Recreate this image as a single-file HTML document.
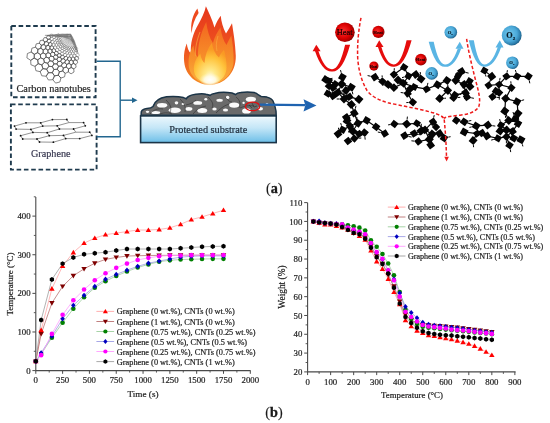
<!DOCTYPE html>
<html><head><meta charset="utf-8"><style>
html,body{margin:0;padding:0;background:#fff;}
svg{display:block;}
</style></head><body>
<svg width="550" height="423" viewBox="0 0 550 423">
<rect width="550" height="423" fill="#fff"/>
<defs>
<linearGradient id="subg" x1="0" y1="0" x2="0" y2="1">
 <stop offset="0" stop-color="#eef8fd"/><stop offset="0.45" stop-color="#c4e6f7"/><stop offset="1" stop-color="#6dbfe8"/>
</linearGradient>
<radialGradient id="redsph" cx="0.42" cy="0.45" r="0.6">
 <stop offset="0" stop-color="#f83030"/><stop offset="0.6" stop-color="#dc0000"/><stop offset="0.88" stop-color="#a80000"/><stop offset="1" stop-color="#720000"/>
</radialGradient>
<radialGradient id="bluesph" cx="0.4" cy="0.42" r="0.62">
 <stop offset="0" stop-color="#72c8ec"/><stop offset="0.6" stop-color="#4aa8d8"/><stop offset="0.88" stop-color="#2a7aa8"/><stop offset="1" stop-color="#1b5a80"/>
</radialGradient>
<linearGradient id="flo" x1="0" y1="0" x2="0" y2="1">
 <stop offset="0" stop-color="#e6361b"/><stop offset="0.55" stop-color="#ee5320"/><stop offset="1" stop-color="#f58a22"/>
</linearGradient>
<linearGradient id="flm" x1="0" y1="0" x2="0" y2="1">
 <stop offset="0" stop-color="#f3661f"/><stop offset="0.6" stop-color="#f7902a"/><stop offset="1" stop-color="#fbb040"/>
</linearGradient>
<radialGradient id="fly" cx="0.5" cy="0.85" r="0.7">
 <stop offset="0" stop-color="#fffbe6"/><stop offset="0.25" stop-color="#ffe98a"/><stop offset="0.7" stop-color="#ffc23a"/><stop offset="1" stop-color="#f99a24"/>
</radialGradient>
<radialGradient id="glow" cx="0.5" cy="0.6" r="0.5">
 <stop offset="0" stop-color="#ffffff"/><stop offset="0.5" stop-color="#fffbe8" stop-opacity="0.9"/><stop offset="1" stop-color="#fff3c0" stop-opacity="0"/>
</radialGradient>
</defs>
<rect x="11.3" y="26.0" width="84.3" height="71.3" fill="none" stroke="#1f3b4e" stroke-width="1.9" stroke-dasharray="4.6 2.7"/>
<rect x="10.9" y="104.4" width="85.7" height="65.2" fill="none" stroke="#1f3b4e" stroke-width="1.9" stroke-dasharray="4.6 2.7"/>
<path d="M96.5 61.3H120.2V136.7H96.8" fill="none" stroke="#22668f" stroke-width="1.4"/>
<path d="M120.2 100.2H133" fill="none" stroke="#22668f" stroke-width="1.4"/>
<path d="M137.5 100.2L132 97.4L132 103Z" fill="#22668f"/>
<path d="M74.7 46.1L75.6 46.3L76.2 45.5L75.8 44.6L75.0 44.6L74.4 45.2ZM73.1 46.5L74.0 46.8L74.7 46.1L74.4 45.2L73.6 45.0L72.9 45.6ZM71.4 46.6L72.3 47.0L73.1 46.5L72.9 45.6L72.1 45.2L71.4 45.7ZM69.7 46.4L70.5 47.0L71.4 46.6L71.4 45.7L70.7 45.2L69.9 45.5ZM68.1 46.0L68.8 46.7L69.7 46.4L69.9 45.5L69.2 44.9L68.4 45.2ZM66.6 45.4L67.1 46.2L68.1 46.0L68.4 45.2L67.9 44.5L67.0 44.6ZM65.2 44.5L65.6 45.4L66.6 45.4L67.0 44.6L66.6 43.8L65.7 43.7ZM63.9 43.4L64.2 44.3L65.2 44.5L65.7 43.7L65.4 42.9L64.6 42.7ZM62.9 42.1L63.0 43.1L63.9 43.4L64.6 42.7L64.4 41.9L63.6 41.6ZM62.0 40.7L62.0 41.7L62.9 42.1L63.6 41.6L63.6 40.7L62.8 40.3ZM61.4 39.1L61.2 40.1L62.0 40.7L62.8 40.3L62.9 39.4L62.3 38.9ZM61.0 37.5L60.7 38.4L61.4 39.1L62.3 38.9L62.5 38.0L61.9 37.4ZM60.9 35.8L60.5 36.7L61.0 37.5L61.9 37.4L62.3 36.6L61.8 35.9ZM61.1 34.2L60.5 35.0L60.9 35.8L61.8 35.9L62.3 35.1L62.0 34.3ZM73.6 45.0L74.4 45.2L75.0 44.6L74.7 43.8L73.9 43.7L73.4 44.2ZM72.1 45.2L72.9 45.6L73.6 45.0L73.4 44.2L72.7 44.0L72.1 44.4ZM70.7 45.2L71.4 45.7L72.1 45.2L72.1 44.4L71.4 44.1L70.8 44.4ZM69.2 44.9L69.9 45.5L70.7 45.2L70.8 44.4L70.2 43.9L69.4 44.2ZM67.9 44.5L68.4 45.2L69.2 44.9L69.4 44.2L68.9 43.6L68.2 43.7ZM66.6 43.8L67.0 44.6L67.9 44.5L68.2 43.7L67.8 43.1L67.0 43.1ZM65.4 42.9L65.7 43.7L66.6 43.8L67.0 43.1L66.7 42.5L65.9 42.3ZM64.4 41.9L64.6 42.7L65.4 42.9L65.9 42.3L65.7 41.6L65.0 41.4ZM63.6 40.7L63.6 41.6L64.4 41.9L65.0 41.4L64.9 40.6L64.3 40.3ZM62.9 39.4L62.8 40.3L63.6 40.7L64.3 40.3L64.3 39.6L63.7 39.1ZM62.5 38.0L62.3 38.9L62.9 39.4L63.7 39.1L63.8 38.4L63.3 37.8ZM62.3 36.6L61.9 37.4L62.5 38.0L63.3 37.8L63.5 37.1L63.1 36.5ZM62.3 35.1L61.8 35.9L62.3 36.6L63.1 36.5L63.5 35.9L63.1 35.2ZM62.6 33.7L62.0 34.3L62.3 35.1L63.1 35.2L63.6 34.6L63.3 33.9ZM73.9 43.7L74.7 43.8L75.1 43.2L74.8 42.6L74.1 42.5L73.7 43.0ZM72.7 44.0L73.4 44.2L73.9 43.7L73.7 43.0L73.1 42.8L72.6 43.3ZM71.4 44.1L72.1 44.4L72.7 44.0L72.6 43.3L72.0 43.0L71.4 43.3ZM70.2 43.9L70.8 44.4L71.4 44.1L71.4 43.3L70.9 43.0L70.3 43.2ZM68.9 43.6L69.4 44.2L70.2 43.9L70.3 43.2L69.8 42.8L69.2 43.0ZM67.8 43.1L68.2 43.7L68.9 43.6L69.2 43.0L68.7 42.5L68.1 42.5ZM66.7 42.5L67.0 43.1L67.8 43.1L68.1 42.5L67.8 41.9L67.1 41.9ZM65.7 41.6L65.9 42.3L66.7 42.5L67.1 41.9L66.9 41.3L66.2 41.1ZM64.9 40.6L65.0 41.4L65.7 41.6L66.2 41.1L66.1 40.5L65.5 40.2ZM64.3 39.6L64.3 40.3L64.9 40.6L65.5 40.2L65.5 39.6L64.9 39.2ZM63.8 38.4L63.7 39.1L64.3 39.6L64.9 39.2L65.0 38.6L64.5 38.2ZM63.5 37.1L63.3 37.8L63.8 38.4L64.5 38.2L64.6 37.5L64.2 37.0ZM63.5 35.9L63.1 36.5L63.5 37.1L64.2 37.0L64.5 36.4L64.2 35.9ZM63.6 34.6L63.1 35.2L63.5 35.9L64.2 35.9L64.5 35.3L64.3 34.7ZM74.1 42.5L74.8 42.6L75.1 42.0L74.8 41.5L74.2 41.5L73.9 41.9ZM73.1 42.8L73.7 43.0L74.1 42.5L73.9 41.9L73.3 41.8L72.9 42.2ZM72.0 43.0L72.6 43.3L73.1 42.8L72.9 42.2L72.4 42.1L71.9 42.4ZM70.9 43.0L71.4 43.3L72.0 43.0L71.9 42.4L71.4 42.1L70.9 42.4ZM69.8 42.8L70.3 43.2L70.9 43.0L70.9 42.4L70.5 42.0L69.9 42.2ZM68.7 42.5L69.2 43.0L69.8 42.8L69.9 42.2L69.5 41.8L69.0 41.9ZM67.8 41.9L68.1 42.5L68.7 42.5L69.0 41.9L68.7 41.4L68.1 41.4ZM66.9 41.3L67.1 41.9L67.8 41.9L68.1 41.4L67.8 40.9L67.3 40.8ZM66.1 40.5L66.2 41.1L66.9 41.3L67.3 40.8L67.1 40.3L66.6 40.1ZM65.5 39.6L65.5 40.2L66.1 40.5L66.6 40.1L66.5 39.5L66.0 39.3ZM65.0 38.6L64.9 39.2L65.5 39.6L66.0 39.3L66.0 38.7L65.5 38.4ZM64.6 37.5L64.5 38.2L65.0 38.6L65.5 38.4L65.6 37.8L65.2 37.4ZM64.5 36.4L64.2 37.0L64.6 37.5L65.2 37.4L65.4 36.9L65.1 36.4ZM64.5 35.3L64.2 35.9L64.5 36.4L65.1 36.4L65.4 35.9L65.1 35.4ZM64.7 34.2L64.3 34.7L64.5 35.3L65.1 35.4L65.5 34.9L65.3 34.4ZM73.3 41.8L73.9 41.9L74.2 41.5L74.0 41.0L73.5 41.0L73.2 41.3ZM72.4 42.1L72.9 42.2L73.3 41.8L73.2 41.3L72.7 41.2L72.3 41.5ZM71.4 42.1L71.9 42.4L72.4 42.1L72.3 41.5L71.9 41.3L71.4 41.6ZM70.5 42.0L70.9 42.4L71.4 42.1L71.4 41.6L71.0 41.3L70.6 41.5ZM69.5 41.8L69.9 42.2L70.5 42.0L70.6 41.5L70.2 41.2L69.7 41.3ZM68.7 41.4L69.0 41.9L69.5 41.8L69.7 41.3L69.4 40.9L68.9 41.0ZM67.8 40.9L68.1 41.4L68.7 41.4L68.9 41.0L68.7 40.5L68.2 40.5ZM67.1 40.3L67.3 40.8L67.8 40.9L68.2 40.5L68.0 40.0L67.5 39.9ZM66.5 39.5L66.6 40.1L67.1 40.3L67.5 39.9L67.4 39.4L66.9 39.2ZM66.0 38.7L66.0 39.3L66.5 39.5L66.9 39.2L66.9 38.7L66.5 38.5ZM65.6 37.8L65.5 38.4L66.0 38.7L66.5 38.5L66.5 38.0L66.2 37.7ZM65.4 36.9L65.2 37.4L65.6 37.8L66.2 37.7L66.3 37.2L66.0 36.8ZM65.4 35.9L65.1 36.4L65.4 36.9L66.0 36.8L66.2 36.3L65.9 35.9ZM65.5 34.9L65.1 35.4L65.4 35.9L65.9 35.9L66.2 35.5L66.0 35.0ZM65.7 34.0L65.3 34.4L65.5 34.9L66.0 35.0L66.3 34.7L66.2 34.2ZM73.5 41.0L74.0 41.0L74.3 40.6L74.0 40.2L73.6 40.2L73.3 40.5ZM72.7 41.2L73.2 41.3L73.5 41.0L73.3 40.5L72.9 40.4L72.6 40.8ZM71.9 41.3L72.3 41.5L72.7 41.2L72.6 40.8L72.2 40.6L71.8 40.9ZM71.0 41.3L71.4 41.6L71.9 41.3L71.8 40.9L71.5 40.7L71.1 40.9ZM70.2 41.2L70.6 41.5L71.0 41.3L71.1 40.9L70.7 40.6L70.3 40.7ZM69.4 40.9L69.7 41.3L70.2 41.2L70.3 40.7L70.0 40.4L69.6 40.5ZM68.7 40.5L68.9 41.0L69.4 40.9L69.6 40.5L69.3 40.1L68.9 40.1ZM68.0 40.0L68.2 40.5L68.7 40.5L68.9 40.1L68.7 39.7L68.3 39.7ZM67.4 39.4L67.5 39.9L68.0 40.0L68.3 39.7L68.2 39.3L67.7 39.1ZM66.9 38.7L66.9 39.2L67.4 39.4L67.7 39.1L67.7 38.7L67.3 38.5ZM66.5 38.0L66.5 38.5L66.9 38.7L67.3 38.5L67.3 38.1L67.0 37.8ZM66.3 37.2L66.2 37.7L66.5 38.0L67.0 37.8L67.0 37.4L66.7 37.1ZM66.2 36.3L66.0 36.8L66.3 37.2L66.7 37.1L66.9 36.7L66.6 36.3ZM66.2 35.5L65.9 35.9L66.2 36.3L66.6 36.3L66.8 35.9L66.6 35.5ZM66.3 34.7L66.0 35.0L66.2 35.5L66.6 35.5L66.9 35.2L66.8 34.8ZM66.6 33.9L66.2 34.2L66.3 34.7L66.8 34.8L67.1 34.5L67.0 34.1ZM72.9 40.4L73.3 40.5L73.6 40.2L73.4 39.8L73.0 39.8L72.8 40.1ZM72.2 40.6L72.6 40.8L72.9 40.4L72.8 40.1L72.4 40.0L72.1 40.2ZM71.5 40.7L71.8 40.9L72.2 40.6L72.1 40.2L71.8 40.1L71.5 40.3ZM70.7 40.6L71.1 40.9L71.5 40.7L71.5 40.3L71.1 40.1L70.8 40.2ZM70.0 40.4L70.3 40.7L70.7 40.6L70.8 40.2L70.5 39.9L70.1 40.0ZM69.3 40.1L69.6 40.5L70.0 40.4L70.1 40.0L69.9 39.7L69.5 39.8ZM68.7 39.7L68.9 40.1L69.3 40.1L69.5 39.8L69.3 39.4L69.0 39.4ZM68.2 39.3L68.3 39.7L68.7 39.7L69.0 39.4L68.8 39.1L68.5 39.0ZM67.7 38.7L67.7 39.1L68.2 39.3L68.5 39.0L68.4 38.6L68.0 38.5ZM67.3 38.1L67.3 38.5L67.7 38.7L68.0 38.5L68.0 38.1L67.7 37.9ZM67.0 37.4L67.0 37.8L67.3 38.1L67.7 37.9L67.7 37.5L67.4 37.3ZM66.9 36.7L66.7 37.1L67.0 37.4L67.4 37.3L67.5 36.9L67.3 36.6ZM66.8 35.9L66.6 36.3L66.9 36.7L67.3 36.6L67.4 36.3L67.2 35.9ZM66.9 35.2L66.6 35.5L66.8 35.9L67.2 35.9L67.4 35.6L67.3 35.3ZM67.1 34.5L66.8 34.8L66.9 35.2L67.3 35.3L67.6 35.0L67.5 34.6ZM67.4 33.8L67.0 34.1L67.1 34.5L67.5 34.6L67.8 34.4L67.7 34.0ZM73.0 39.8L73.4 39.8L73.6 39.5L73.4 39.2L73.1 39.2L72.9 39.4ZM72.4 40.0L72.8 40.1L73.0 39.8L72.9 39.4L72.6 39.4L72.3 39.6ZM71.8 40.1L72.1 40.2L72.4 40.0L72.3 39.6L72.0 39.5L71.8 39.7ZM71.1 40.1L71.5 40.3L71.8 40.1L71.8 39.7L71.5 39.5L71.2 39.7ZM70.5 39.9L70.8 40.2L71.1 40.1L71.2 39.7L70.9 39.5L70.6 39.6ZM69.9 39.7L70.1 40.0L70.5 39.9L70.6 39.6L70.4 39.4L70.0 39.4ZM69.3 39.4L69.5 39.8L69.9 39.7L70.0 39.4L69.9 39.1L69.5 39.1ZM68.8 39.1L69.0 39.4L69.3 39.4L69.5 39.1L69.4 38.8L69.1 38.8ZM68.4 38.6L68.5 39.0L68.8 39.1L69.1 38.8L69.0 38.5L68.6 38.4ZM68.0 38.1L68.0 38.5L68.4 38.6L68.6 38.4L68.6 38.0L68.3 37.9ZM67.7 37.5L67.7 37.9L68.0 38.1L68.3 37.9L68.3 37.6L68.0 37.4ZM67.5 36.9L67.4 37.3L67.7 37.5L68.0 37.4L68.1 37.0L67.9 36.8ZM67.4 36.3L67.3 36.6L67.5 36.9L67.9 36.8L68.0 36.5L67.8 36.2ZM67.4 35.6L67.2 35.9L67.4 36.3L67.8 36.2L68.0 35.9L67.8 35.7ZM67.6 35.0L67.3 35.3L67.4 35.6L67.8 35.7L68.0 35.4L67.9 35.1ZM67.8 34.4L67.5 34.6L67.6 35.0L67.9 35.1L68.1 34.8L68.1 34.5ZM68.1 33.8L67.7 34.0L67.8 34.4L68.1 34.5L68.4 34.3L68.4 34.0Z" fill="none" stroke="#a8a8a8" stroke-width="0.3"/>
<path d="M76.2 56.4L78.1 56.9L79.3 55.4L78.7 53.7L77.0 53.4L75.8 54.6ZM72.9 56.9L74.7 57.7L76.2 56.4L75.8 54.6L74.2 54.1L72.8 55.1ZM69.6 56.8L71.3 57.9L72.9 56.9L72.8 55.1L71.3 54.3L69.8 55.0ZM66.4 56.3L67.8 57.6L69.6 56.8L69.8 55.0L68.5 54.0L66.8 54.5ZM63.3 55.2L64.5 56.8L66.4 56.3L66.8 54.5L65.7 53.3L64.0 53.6ZM60.4 53.7L61.3 55.4L63.3 55.2L64.0 53.6L63.0 52.2L61.3 52.2ZM57.7 51.7L58.4 53.6L60.4 53.7L61.3 52.2L60.6 50.6L58.9 50.4ZM55.4 49.4L55.8 51.3L57.7 51.7L58.9 50.4L58.4 48.7L56.8 48.2ZM53.5 46.7L53.6 48.6L55.4 49.4L56.8 48.2L56.6 46.5L55.1 45.8ZM52.1 43.7L51.8 45.7L53.5 46.7L55.1 45.8L55.1 44.1L53.7 43.1ZM51.1 40.6L50.6 42.5L52.1 43.7L53.7 43.1L54.1 41.4L52.9 40.2ZM50.6 37.3L49.8 39.1L51.1 40.6L52.9 40.2L53.4 38.6L52.4 37.2ZM50.7 34.0L49.6 35.7L50.6 37.3L52.4 37.2L53.2 35.7L52.5 34.2ZM74.2 54.1L75.8 54.6L77.0 53.4L76.5 51.9L75.1 51.5L74.0 52.5ZM71.3 54.3L72.8 55.1L74.2 54.1L74.0 52.5L72.6 51.9L71.3 52.7ZM68.5 54.0L69.8 55.0L71.3 54.3L71.3 52.7L70.1 51.9L68.7 52.4ZM65.7 53.3L66.8 54.5L68.5 54.0L68.7 52.4L67.6 51.4L66.2 51.8ZM63.0 52.2L64.0 53.6L65.7 53.3L66.2 51.8L65.2 50.6L63.8 50.8ZM60.6 50.6L61.3 52.2L63.0 52.2L63.8 50.8L63.0 49.5L61.5 49.4ZM58.4 48.7L58.9 50.4L60.6 50.6L61.5 49.4L61.0 48.0L59.6 47.6ZM56.6 46.5L56.8 48.2L58.4 48.7L59.6 47.6L59.3 46.2L57.9 45.6ZM55.1 44.1L55.1 45.8L56.6 46.5L57.9 45.6L57.8 44.1L56.5 43.4ZM54.1 41.4L53.7 43.1L55.1 44.1L56.5 43.4L56.7 41.9L55.6 40.9ZM53.4 38.6L52.9 40.2L54.1 41.4L55.6 40.9L56.0 39.5L55.0 38.4ZM53.2 35.7L52.4 37.2L53.4 38.6L55.0 38.4L55.6 37.0L54.8 35.7ZM75.1 51.5L76.5 51.9L77.5 50.8L76.9 49.5L75.7 49.3L74.8 50.2ZM72.6 51.9L74.0 52.5L75.1 51.5L74.8 50.2L73.5 49.7L72.5 50.5ZM70.1 51.9L71.3 52.7L72.6 51.9L72.5 50.5L71.4 49.9L70.2 50.5ZM67.6 51.4L68.7 52.4L70.1 51.9L70.2 50.5L69.2 49.7L68.0 50.1ZM65.2 50.6L66.2 51.8L67.6 51.4L68.0 50.1L67.1 49.2L65.8 49.4ZM63.0 49.5L63.8 50.8L65.2 50.6L65.8 49.4L65.0 48.3L63.8 48.3ZM61.0 48.0L61.5 49.4L63.0 49.5L63.8 48.3L63.2 47.1L61.9 46.9ZM59.3 46.2L59.6 47.6L61.0 48.0L61.9 46.9L61.5 45.7L60.3 45.3ZM57.8 44.1L57.9 45.6L59.3 46.2L60.3 45.3L60.1 44.0L59.0 43.4ZM56.7 41.9L56.5 43.4L57.8 44.1L59.0 43.4L59.0 42.1L58.0 41.4ZM56.0 39.5L55.6 40.9L56.7 41.9L58.0 41.4L58.2 40.1L57.3 39.2ZM55.6 37.0L55.0 38.4L56.0 39.5L57.3 39.2L57.7 38.0L57.0 36.9ZM55.6 34.5L54.8 35.7L55.6 37.0L57.0 36.9L57.6 35.8L57.0 34.6ZM75.7 49.3L76.9 49.5L77.7 48.4L77.2 47.4L76.0 47.2L75.3 48.1ZM73.5 49.7L74.8 50.2L75.7 49.3L75.3 48.1L74.2 47.8L73.4 48.6ZM71.4 49.9L72.5 50.5L73.5 49.7L73.4 48.6L72.3 48.1L71.4 48.7ZM69.2 49.7L70.2 50.5L71.4 49.9L71.4 48.7L70.4 48.1L69.4 48.5ZM67.1 49.2L68.0 50.1L69.2 49.7L69.4 48.5L68.5 47.8L67.4 48.0ZM65.0 48.3L65.8 49.4L67.1 49.2L67.4 48.0L66.7 47.1L65.6 47.2ZM63.2 47.1L63.8 48.3L65.0 48.3L65.6 47.2L65.0 46.3L63.9 46.2ZM61.5 45.7L61.9 46.9L63.2 47.1L63.9 46.2L63.5 45.1L62.4 44.9ZM60.1 44.0L60.3 45.3L61.5 45.7L62.4 44.9L62.2 43.8L61.1 43.3ZM59.0 42.1L59.0 43.4L60.1 44.0L61.1 43.3L61.1 42.2L60.1 41.6ZM58.2 40.1L58.0 41.4L59.0 42.1L60.1 41.6L60.2 40.5L59.4 39.7ZM57.7 38.0L57.3 39.2L58.2 40.1L59.4 39.7L59.7 38.7L58.9 37.8ZM57.6 35.8L57.0 36.9L57.7 38.0L58.9 37.8L59.4 36.8L58.8 35.8ZM57.8 33.6L57.0 34.6L57.6 35.8L58.8 35.8L59.4 34.9L59.0 33.8ZM74.2 47.8L75.3 48.1L76.0 47.2L75.6 46.3L74.7 46.1L74.0 46.8ZM72.3 48.1L73.4 48.6L74.2 47.8L74.0 46.8L73.1 46.5L72.3 47.0ZM70.4 48.1L71.4 48.7L72.3 48.1L72.3 47.0L71.4 46.6L70.5 47.0ZM68.5 47.8L69.4 48.5L70.4 48.1L70.5 47.0L69.7 46.4L68.8 46.7ZM66.7 47.1L67.4 48.0L68.5 47.8L68.8 46.7L68.1 46.0L67.1 46.2ZM65.0 46.3L65.6 47.2L66.7 47.1L67.1 46.2L66.6 45.4L65.6 45.4ZM63.5 45.1L63.9 46.2L65.0 46.3L65.6 45.4L65.2 44.5L64.2 44.3ZM62.2 43.8L62.4 44.9L63.5 45.1L64.2 44.3L63.9 43.4L63.0 43.1ZM61.1 42.2L61.1 43.3L62.2 43.8L63.0 43.1L62.9 42.1L62.0 41.7ZM60.2 40.5L60.1 41.6L61.1 42.2L62.0 41.7L62.0 40.7L61.2 40.1ZM59.7 38.7L59.4 39.7L60.2 40.5L61.2 40.1L61.4 39.1L60.7 38.4ZM59.4 36.8L58.9 37.8L59.7 38.7L60.7 38.4L61.0 37.5L60.5 36.7ZM59.4 34.9L58.8 35.8L59.4 36.8L60.5 36.7L60.9 35.8L60.5 35.0Z" fill="none" stroke="#777" stroke-width="0.45"/>
<path d="M52.8 79.7L55.6 83.1L59.9 82.0L60.9 78.0L58.3 75.2L54.5 75.9ZM46.2 76.2L48.4 80.0L52.8 79.7L54.5 75.9L52.3 72.7L48.4 72.7ZM40.2 71.7L41.8 75.8L46.2 76.2L48.4 72.7L46.7 69.2L42.9 68.6ZM35.0 66.4L35.9 70.7L40.2 71.7L42.9 68.6L41.8 64.9L38.2 63.7ZM30.7 60.3L30.9 64.7L35.0 66.4L38.2 63.7L37.7 59.9L34.2 58.1ZM27.4 53.5L26.9 57.9L30.7 60.3L34.2 58.1L34.3 54.3L31.2 52.0ZM58.3 75.2L60.9 78.0L64.6 76.8L65.2 73.3L62.7 71.0L59.4 71.8ZM52.3 72.7L54.5 75.9L58.3 75.2L59.4 71.8L57.3 69.2L53.9 69.5ZM46.7 69.2L48.4 72.7L52.3 72.7L53.9 69.5L52.3 66.6L48.9 66.3ZM41.8 64.9L42.9 68.6L46.7 69.2L48.9 66.3L47.7 63.2L44.4 62.4ZM37.7 59.9L38.2 63.7L41.8 64.9L44.4 62.4L43.7 59.1L40.6 57.8ZM34.3 54.3L34.2 58.1L37.7 59.9L40.6 57.8L40.4 54.5L37.6 52.7ZM31.9 48.2L31.2 52.0L34.3 54.3L37.6 52.7L37.9 49.4L35.4 47.2ZM68.3 72.0L71.1 73.8L74.0 72.0L73.8 68.9L71.2 67.5L68.6 68.9ZM62.7 71.0L65.2 73.3L68.3 72.0L68.6 68.9L66.2 67.1L63.4 68.0ZM57.3 69.2L59.4 71.8L62.7 71.0L63.4 68.0L61.4 65.9L58.5 66.3ZM52.3 66.6L53.9 69.5L57.3 69.2L58.5 66.3L56.9 63.9L53.9 63.9ZM47.7 63.2L48.9 66.3L52.3 66.6L53.9 63.9L52.7 61.3L49.8 60.8ZM43.7 59.1L44.4 62.4L47.7 63.2L49.8 60.8L48.9 58.0L46.1 57.1ZM40.4 54.5L40.6 57.8L43.7 59.1L46.1 57.1L45.8 54.2L43.1 52.9ZM37.9 49.4L37.6 52.7L40.4 54.5L43.1 52.9L43.2 49.9L40.8 48.2ZM36.2 43.9L35.4 47.2L37.9 49.4L40.8 48.2L41.4 45.3L39.3 43.2ZM71.2 67.5L73.8 68.9L76.1 67.2L75.7 64.5L73.4 63.4L71.2 64.8ZM66.2 67.1L68.6 68.9L71.2 67.5L71.2 64.8L69.1 63.4L66.7 64.4ZM61.4 65.9L63.4 68.0L66.2 67.1L66.7 64.4L64.8 62.7L62.3 63.3ZM56.9 63.9L58.5 66.3L61.4 65.9L62.3 63.3L60.7 61.3L58.1 61.5ZM52.7 61.3L53.9 63.9L56.9 63.9L58.1 61.5L56.9 59.3L54.3 59.1ZM48.9 58.0L49.8 60.8L52.7 61.3L54.3 59.1L53.4 56.7L50.9 56.1ZM45.8 54.2L46.1 57.1L48.9 58.0L50.9 56.1L50.4 53.6L48.0 52.6ZM43.2 49.9L43.1 52.9L45.8 54.2L48.0 52.6L47.9 50.1L45.7 48.7ZM41.4 45.3L40.8 48.2L43.2 49.9L45.7 48.7L45.9 46.2L44.0 44.5ZM40.3 40.5L39.3 43.2L41.4 45.3L44.0 44.5L44.7 42.0L43.0 40.1ZM73.4 63.4L75.7 64.5L77.7 62.8L77.1 60.5L75.0 59.7L73.2 61.1ZM69.1 63.4L71.2 64.8L73.4 63.4L73.2 61.1L71.3 60.0L69.3 61.0ZM64.8 62.7L66.7 64.4L69.1 63.4L69.3 61.0L67.5 59.7L65.4 60.4ZM60.7 61.3L62.3 63.3L64.8 62.7L65.4 60.4L63.8 58.7L61.6 59.1ZM56.9 59.3L58.1 61.5L60.7 61.3L61.6 59.1L60.4 57.2L58.1 57.3ZM53.4 56.7L54.3 59.1L56.9 59.3L58.1 57.3L57.2 55.2L55.0 54.9ZM50.4 53.6L50.9 56.1L53.4 56.7L55.0 54.9L54.3 52.7L52.2 52.1ZM47.9 50.1L48.0 52.6L50.4 53.6L52.2 52.1L51.9 49.8L49.9 48.8ZM45.9 46.2L45.7 48.7L47.9 50.1L49.9 48.8L50.0 46.6L48.2 45.3ZM44.7 42.0L44.0 44.5L45.9 46.2L48.2 45.3L48.6 43.1L47.0 41.5ZM44.1 37.7L43.0 40.1L44.7 42.0L47.0 41.5L47.7 39.4L46.4 37.6ZM75.0 59.7L77.1 60.5L78.7 58.9L78.1 56.9L76.2 56.4L74.7 57.7ZM71.3 60.0L73.2 61.1L75.0 59.7L74.7 57.7L72.9 56.9L71.3 57.9ZM67.5 59.7L69.3 61.0L71.3 60.0L71.3 57.9L69.6 56.8L67.8 57.6ZM63.8 58.7L65.4 60.4L67.5 59.7L67.8 57.6L66.4 56.3L64.5 56.8ZM60.4 57.2L61.6 59.1L63.8 58.7L64.5 56.8L63.3 55.2L61.3 55.4ZM57.2 55.2L58.1 57.3L60.4 57.2L61.3 55.4L60.4 53.7L58.4 53.6ZM54.3 52.7L55.0 54.9L57.2 55.2L58.4 53.6L57.7 51.7L55.8 51.3ZM51.9 49.8L52.2 52.1L54.3 52.7L55.8 51.3L55.4 49.4L53.6 48.6ZM50.0 46.6L49.9 48.8L51.9 49.8L53.6 48.6L53.5 46.7L51.8 45.7ZM48.6 43.1L48.2 45.3L50.0 46.6L51.8 45.7L52.1 43.7L50.6 42.5ZM47.7 39.4L47.0 41.5L48.6 43.1L50.6 42.5L51.1 40.6L49.8 39.1ZM47.5 35.6L46.4 37.6L47.7 39.4L49.8 39.1L50.6 37.3L49.6 35.7Z" fill="none" stroke="#4e4e4e" stroke-width="0.7"/>
<path d="M44 35.4 C52 34.2 62 33.6 70.6 33.8 C73.5 37 76.5 44 78.4 54 C76 47.5 73.5 42.5 69.5 39.2 C63 36.6 54 36 44 35.4Z" fill="#7c7c7c" opacity="0.75"/>
<path d="M45 35.3 C55 35 64 35.5 70.5 34.2 M47 35.8 C57 36.2 65 37 71 36.5 M70.6 34 C73 40 75.5 46 78 53 M70.5 35 C72 41 74 47 77 52" fill="none" stroke="#555" stroke-width="0.45"/>
<text x="53.7" y="92.4" font-family="Liberation Serif, serif" font-size="10.25" text-anchor="middle" fill="#2a2a2a" stroke="#2a2a2a" stroke-width="0.2">Carbon nanotubes</text>
<path d="M14.5 126.1L26.0 122.8M14.5 126.1L16.1 129.1M26.0 122.8L40.7 122.8M40.7 122.8L52.4 119.6M40.7 122.8L42.7 126.1M52.4 119.6L66.8 119.5M16.1 129.1L30.9 129.4M30.9 129.4L42.7 126.1M30.9 129.4L32.9 132.4M42.7 126.1L57.2 125.8M32.9 132.4L47.2 132.7M47.2 132.7L49.3 135.7M47.2 132.7L59.4 129.0M20.6 135.7L32.9 132.4M20.6 135.7L22.7 139.0M49.3 135.7L63.5 135.4M22.7 139.0L37.0 139.0M37.0 139.0L49.3 135.7M37.0 139.0L39.5 142.0M39.5 142.0L53.4 142.2M53.4 142.2L65.7 138.6M66.8 119.5L68.9 122.6M83.6 122.6L85.3 125.8M57.2 125.8L59.4 129.0M57.2 125.8L68.9 122.6M59.4 129.0L73.6 129.0M73.6 129.0L85.3 125.8M73.6 129.0L75.8 132.2M89.7 132.2L91.9 135.4M63.5 135.4L65.7 138.6M63.5 135.4L75.8 132.2M65.7 138.6L79.7 138.6M79.7 138.6L91.9 135.4M68.9 122.6L83.6 122.6M75.8 132.2L89.7 132.2" stroke="#707070" stroke-width="0.75" fill="none"/>
<circle cx="14.5" cy="126.1" r="0.9" fill="#111"/>
<circle cx="26.0" cy="122.8" r="0.9" fill="#111"/>
<circle cx="40.7" cy="122.8" r="0.9" fill="#111"/>
<circle cx="52.4" cy="119.6" r="0.9" fill="#111"/>
<circle cx="16.1" cy="129.1" r="0.9" fill="#111"/>
<circle cx="30.9" cy="129.4" r="0.9" fill="#111"/>
<circle cx="42.7" cy="126.1" r="0.9" fill="#111"/>
<circle cx="32.9" cy="132.4" r="0.9" fill="#111"/>
<circle cx="47.2" cy="132.7" r="0.9" fill="#111"/>
<circle cx="20.6" cy="135.7" r="0.9" fill="#111"/>
<circle cx="49.3" cy="135.7" r="0.9" fill="#111"/>
<circle cx="22.7" cy="139.0" r="0.9" fill="#111"/>
<circle cx="37.0" cy="139.0" r="0.9" fill="#111"/>
<circle cx="39.5" cy="142.0" r="0.9" fill="#111"/>
<circle cx="53.4" cy="142.2" r="0.9" fill="#111"/>
<circle cx="66.8" cy="119.5" r="0.9" fill="#111"/>
<circle cx="83.6" cy="122.6" r="0.9" fill="#111"/>
<circle cx="85.3" cy="125.8" r="0.9" fill="#111"/>
<circle cx="57.2" cy="125.8" r="0.9" fill="#111"/>
<circle cx="59.4" cy="129.0" r="0.9" fill="#111"/>
<circle cx="73.6" cy="129.0" r="0.9" fill="#111"/>
<circle cx="89.7" cy="132.2" r="0.9" fill="#111"/>
<circle cx="91.9" cy="135.4" r="0.9" fill="#111"/>
<circle cx="63.5" cy="135.4" r="0.9" fill="#111"/>
<circle cx="65.7" cy="138.6" r="0.9" fill="#111"/>
<circle cx="79.7" cy="138.6" r="0.9" fill="#111"/>
<text x="50.8" y="157.4" font-family="Liberation Serif, serif" font-size="10.2" text-anchor="middle" fill="#3a3a52" stroke="#3a3a52" stroke-width="0.2">Graphene</text><path d="M210 84.8 C197 84.8 185.5 76 184.2 62 C183.4 54 185 48 186.8 43.6 C187.2 48 188.6 51.5 191 53.5 C190 44 193 33 198.5 24 C201.5 18.5 204.8 12 205.9 6.3 C208.5 12 212 19 214.5 27.5 C216 23 218.5 19 220.7 15.8 C221.3 22 223 28 226 33.5 C228.3 30 230.3 26.5 232 23.2 C233 30 235.4 43 235.8 56 C236.2 73 224 84.8 210 84.8Z" fill="url(#flo)"/>
<path d="M197.4 8.6 C192.5 15 190.2 24 191.6 33.3 C192.3 26 194.5 18.5 198.6 13 C198.2 11.5 197.8 10 197.4 8.6Z" fill="#ee4a1e"/>
<path d="M210 83.8 C199 83.8 188.8 76 188.6 64 C188.4 56 190.5 50 193.5 45.5 C194 51 195.5 55 198 57.5 C197.5 46 200.5 33 206.2 22 C207.5 31 209.5 38 213 43 C214.5 37 217.5 31.5 220.5 27.5 C221.5 35 223.5 41 226.5 45 C228 41.5 229.8 38.5 231.3 35.5 C232.6 43 233.8 52 233.6 61 C233.2 74 223 83.8 210 83.8Z" fill="url(#flm)"/>
<path d="M210 83.2 C200.5 83.2 193.5 77 193.8 68.5 C194 62 197 57 200.3 53.5 C201 58.5 202.5 61.5 204.5 63 C205 55.5 207.5 48.5 211.8 43 C213 49.5 215.5 54.5 219 57.5 C220 54.5 222 51.5 224 50 C225.3 55 226.8 61 226.6 67.5 C226.3 77 219.5 83.2 210 83.2Z" fill="url(#fly)"/>
<path d="M200 32 C197 40 195 48 195.5 56" stroke="#f9a23a" stroke-width="0.9" fill="none" opacity="0.8"/>
<path d="M218 36 C216 42 216 47 217 51" stroke="#fbb040" stroke-width="0.8" fill="none" opacity="0.7"/>
<ellipse cx="210" cy="78.5" rx="11" ry="7" fill="url(#glow)"/>
<path d="M141.1 115.3 L141.3 111.8 C142 109.8 144 108.8 147 108.5 C149.5 108.3 151.5 108 153 106.5 C154.5 101.5 159 98 166.5 96.8 C172 96.2 179 96.5 183.5 97.6 L186.3 98.7 C187.5 96.5 191 94.8 195.8 94.2 C200 93.6 204 93.6 206 94.2 L210.2 95.3 C211.5 94 213 93.6 214.5 93.4 C218 92.5 227 92.2 232 93 L235.6 94.5 C237 93.2 239 92.8 240.7 92.6 C244 92 250 91.8 254 92.6 C256 93 257.5 94 258.5 95 L261.1 96.4 C263 96.5 265 96.6 266.9 97.1 C270 98 272 99 273 101 C274.5 104 275.5 108 276 111 L276.2 115.3 Z" fill="#6a6a6a" stroke="#1b3447" stroke-width="1.5"/>
<ellipse cx="162.1" cy="105.3" rx="5.1" ry="2.3" fill="#fafafa"/>
<ellipse cx="174.8" cy="110.2" rx="6.1" ry="2.8" fill="#fafafa"/>
<ellipse cx="155.7" cy="112.5" rx="4.5" ry="1.5" fill="#fafafa"/>
<ellipse cx="176.5" cy="102.8" rx="1.8" ry="1.6" fill="#fafafa"/>
<ellipse cx="188.8" cy="108.9" rx="3.6" ry="1.8" fill="#fafafa"/>
<ellipse cx="197.7" cy="102.9" rx="4.5" ry="1.9" fill="#fafafa"/>
<ellipse cx="202.2" cy="110.6" rx="5" ry="2.5" fill="#fafafa"/>
<ellipse cx="205.8" cy="99.3" rx="1.5" ry="1.2" fill="#fafafa"/>
<ellipse cx="214.5" cy="109" rx="2.2" ry="1.5" fill="#fafafa"/>
<ellipse cx="219.6" cy="100.3" rx="3.2" ry="1.5" fill="#fafafa"/>
<ellipse cx="227.6" cy="97.4" rx="1.8" ry="1.6" fill="#fafafa"/>
<ellipse cx="234.2" cy="105.1" rx="5.1" ry="2.6" fill="#fafafa"/>
<ellipse cx="225.5" cy="109.9" rx="2.6" ry="1.5" fill="#fafafa"/>
<ellipse cx="250.9" cy="99.3" rx="5.1" ry="2.6" fill="#fafafa"/>
<ellipse cx="246.5" cy="110.9" rx="4.4" ry="2.6" fill="#fafafa"/>
<ellipse cx="260.4" cy="108.7" rx="2.6" ry="1.7" fill="#fafafa"/>
<ellipse cx="243.6" cy="102.9" rx="1.2" ry="1.1" fill="#fafafa"/>
<ellipse cx="147.5" cy="111.8" rx="1.8" ry="1.1" fill="#fafafa"/>
<ellipse cx="183" cy="104" rx="1.4" ry="1.1" fill="#fafafa"/>
<ellipse cx="267" cy="104" rx="1.3" ry="1.1" fill="#fafafa"/>
<path d="M150 114 C153 110 158 108 163 109" stroke="#262626" stroke-width="0.5" fill="none"/>
<path d="M166 100 C170 104 172 107 170 113" stroke="#262626" stroke-width="0.5" fill="none"/>
<path d="M180 99 C184 103 186 106 185 112" stroke="#262626" stroke-width="0.5" fill="none"/>
<path d="M193 114 C196 110 200 107 206 106" stroke="#262626" stroke-width="0.5" fill="none"/>
<path d="M208 97 C212 101 214 104 212 108" stroke="#262626" stroke-width="0.5" fill="none"/>
<path d="M216 113 C220 109 223 106 229 104" stroke="#262626" stroke-width="0.5" fill="none"/>
<path d="M236 97 C240 100 241 104 239 108" stroke="#262626" stroke-width="0.5" fill="none"/>
<path d="M186 105 C190 104 193 103 196 100" stroke="#262626" stroke-width="0.5" fill="none"/>
<path d="M240 108 C244 106 249 105 254 106" stroke="#262626" stroke-width="0.5" fill="none"/>
<path d="M225 97 C228 100 229 102 232 102" stroke="#262626" stroke-width="0.5" fill="none"/>
<path d="M160 114 C165 112 170 113 172 114" stroke="#262626" stroke-width="0.5" fill="none"/>
<rect x="140.6" y="115.9" width="135.6" height="26.7" fill="url(#subg)" stroke="#1b3447" stroke-width="1.6"/>
<path d="M141.6 117.6H275.2" stroke="#f4fbff" stroke-width="0.8"/>
<text x="208.2" y="132.8" font-family="Liberation Serif, serif" font-size="10.3" text-anchor="middle" fill="#1e2b3a" stroke="#1e2b3a" stroke-width="0.2">Protected substrate</text>
<ellipse cx="252.6" cy="106.4" rx="7.2" ry="4.3" fill="none" stroke="#e01010" stroke-width="1.3"/>
<path d="M249 105 L252 108 M252 103 L254 107 L257 106" stroke="#222" stroke-width="0.5" fill="none"/>
<path d="M259.5 104.6 L305 105.2" stroke="#1f63b0" stroke-width="2.2" fill="none"/>
<path d="M316.5 105.4 L303.5 99.3 L305.3 105.3 L303.5 111.4 Z" fill="#1f63b0"/><path d="M325.6 79.5L329.0 80.9L335.4 84.1L341.7 84.1L351.3 87.3M342.4 77.1L341.7 84.1L337.9 92.4L349.4 96.8L358.9 99.4M327.7 93.6L333.0 96.0M337.9 92.4L344.0 99.0L351.3 104.5L354.3 113.1L346.3 117.5M354.3 113.1L357.9 123.3L352.8 131.3L354.3 138.5M342.6 129.8L349.9 126.2L357.9 123.3L366.6 120.4L376.1 126.9L384.8 133.5M352.8 131.3L364.5 132.7M374.8 77.1L382.5 81.5L393.9 87.6L403.4 83.3L414.3 86.9L426.6 89.1L437.5 84.7L447.0 80.4M393.9 74.5L404.1 67.3L408.5 76.0L403.4 83.3L407.7 93.5L412.8 102.2M408.5 76.0L415.7 74.5L421.0 79.0M447.7 90.5L439.7 98.5M447.7 90.5L453.5 97.8M437.5 84.7L447.7 90.5M461.5 71.5L455.7 80.5L463.9 84.5L469.6 81.3M463.9 84.5L465.5 92.7L454.9 95.2M465.5 92.7L467.0 97.0M484.4 70.6L491.7 76.4L488.5 85.4L499.1 84.5L499.1 92.7L492.5 96.8M499.1 84.5L506.5 76.4L517.1 76.4L528.5 76.4M499.1 84.5L511.4 87.8L505.6 98.5L517.1 101.7M505.6 98.5L504.8 111.2L508.7 120.5L501.0 125.1L506.5 130.0L512.5 131.3L506.4 136.7L509.5 145.2M517.1 101.7L518.0 113.5L518.0 123.6L512.5 131.3M394.3 124.0L406.7 124.0L416.9 123.3L424.9 129.8L432.9 121.8M404.5 135.6L414.0 133.5L424.9 129.8L432.2 134.2L439.5 133.5M418.4 141.5L429.3 139.3L430.7 145.1M424.9 129.8L429.3 139.3M456.2 120.4L464.2 121.8L476.2 125.9L487.8 125.1M464.2 132.0L477.0 133.6L487.0 136.0L497.9 138.3L506.4 136.7L521.0 139.8M473.1 140.6L477.0 133.6M333.0 88.0M346.0 90.5M338.0 134.0M347.0 121.0M359.0 134.0M348.0 141.0M421.0 131.0M436.0 127.0M500.0 131.0M470.0 86.5M410.0 89.0M458.0 76.0M398.0 80.0M329.0 86.0M444.0 138.0M496.0 91.0M515.0 119.0M482.0 133.0" stroke="#050505" stroke-width="1.2" fill="none" stroke-linejoin="round"/>
<path d="M326.4 83.9L321.2 80.3L324.8 75.1L330.0 78.7ZM330.1 84.9L325.0 82.0L327.9 76.9L333.0 79.8ZM336.1 88.3L331.2 84.8L334.7 79.9L339.6 83.4ZM341.9 88.7L337.1 84.3L341.5 79.5L346.3 83.9ZM352.3 91.8L346.8 88.3L350.3 82.8L355.8 86.3ZM343.6 81.5L338.0 78.3L341.2 72.7L346.8 75.9ZM337.3 96.7L333.6 91.8L338.5 88.1L342.2 93.0ZM348.6 101.1L345.1 96.0L350.2 92.5L353.7 97.6ZM359.2 104.0L354.3 99.7L358.6 94.8L363.5 99.1ZM328.7 97.7L323.6 94.6L326.7 89.5L331.8 92.6ZM332.3 100.3L328.7 95.3L333.7 91.7L337.3 96.7ZM344.0 103.4L339.6 99.0L344.0 94.6L348.4 99.0ZM351.0 109.1L346.7 104.2L351.6 99.9L355.9 104.8ZM353.3 117.5L349.9 112.1L355.3 108.7L358.7 114.1ZM345.5 121.9L341.9 116.7L347.1 113.1L350.7 118.3ZM358.7 127.8L353.4 124.1L357.1 118.8L362.4 122.5ZM353.0 135.8L348.3 131.5L352.6 126.8L357.3 131.1ZM354.6 142.7L350.1 138.8L354.0 134.3L358.5 138.2ZM343.8 134.1L338.3 131.0L341.4 125.5L346.9 128.6ZM349.1 130.4L345.7 125.4L350.7 122.0L354.1 127.0ZM367.7 124.7L362.3 121.5L365.5 116.1L370.9 119.3ZM376.7 131.2L371.8 127.5L375.5 122.6L380.4 126.3ZM383.9 137.7L380.6 132.6L385.7 129.3L389.0 134.4ZM364.9 137.1L360.1 133.1L364.1 128.3L368.9 132.3ZM373.9 81.4L370.5 76.2L375.7 72.8L379.1 78.0ZM382.8 85.8L378.2 81.8L382.2 77.2L386.8 81.2ZM388.6 89.0L383.8 84.9L387.8 80.1L392.6 84.2ZM393.8 92.0L389.5 87.5L394.0 83.2L398.3 87.7ZM403.9 87.8L398.9 83.8L402.9 78.8L407.9 82.8ZM415.5 90.9L410.3 88.1L413.1 82.9L418.3 85.7ZM425.7 93.3L422.4 88.2L427.5 84.9L430.8 90.0ZM438.4 89.2L433.0 85.6L436.6 80.2L442.0 83.8ZM447.7 84.9L442.5 81.1L446.3 75.9L451.5 79.7ZM393.6 78.7L389.7 74.2L394.2 70.3L398.1 74.8ZM405.0 71.6L399.8 68.2L403.2 63.0L408.4 66.4ZM409.5 80.2L404.3 77.0L407.5 71.8L412.7 75.0ZM407.1 97.7L403.5 92.9L408.3 89.3L411.9 94.1ZM413.1 106.5L408.5 102.5L412.5 97.9L417.1 101.9ZM415.1 78.9L411.3 73.9L416.3 70.1L420.1 75.1ZM421.5 83.5L416.5 79.5L420.5 74.5L425.5 78.5ZM448.0 94.9L443.3 90.8L447.4 86.1L452.1 90.2ZM439.9 103.0L435.2 98.7L439.5 94.0L444.2 98.3ZM453.8 102.1L449.2 98.1L453.2 93.5L457.8 97.5ZM460.5 75.9L457.1 70.5L462.5 67.1L465.9 72.5ZM455.5 84.9L451.3 80.3L455.9 76.1L460.1 80.7ZM463.2 89.0L459.4 83.8L464.6 80.0L468.4 85.2ZM470.6 85.5L465.4 82.3L468.6 77.1L473.8 80.3ZM464.7 97.1L461.1 91.9L466.3 88.3L469.9 93.5ZM455.5 99.7L450.4 95.8L454.3 90.7L459.4 94.6ZM466.2 101.2L462.8 96.2L467.8 92.8L471.2 97.8ZM485.5 74.7L480.3 71.7L483.3 66.5L488.5 69.5ZM491.2 81.0L487.1 75.9L492.2 71.8L496.3 76.9ZM487.9 89.5L484.4 84.8L489.1 81.3L492.6 86.0ZM498.5 88.6L495.0 83.9L499.7 80.4L503.2 85.1ZM499.2 96.9L494.9 92.8L499.0 88.5L503.3 92.6ZM492.0 101.0L488.3 96.3L493.0 92.6L496.7 97.3ZM505.9 80.6L502.3 75.8L507.1 72.2L510.7 77.0ZM518.2 80.6L512.9 77.5L516.0 72.2L521.3 75.3ZM529.3 80.7L524.2 77.2L527.7 72.1L532.8 75.6ZM511.8 92.0L507.2 88.2L511.0 83.6L515.6 87.4ZM505.4 102.9L501.2 98.3L505.8 94.1L510.0 98.7ZM518.3 106.1L512.7 102.9L515.9 97.3L521.5 100.5ZM505.4 115.8L500.2 111.8L504.2 106.6L509.4 110.6ZM508.8 125.0L504.2 120.6L508.6 116.0L513.2 120.4ZM501.9 129.2L496.9 126.0L500.1 121.0L505.1 124.2ZM506.2 134.6L501.9 129.7L506.8 125.4L511.1 130.3ZM511.8 135.7L508.1 130.6L513.2 126.9L516.9 132.0ZM506.4 140.9L502.2 136.7L506.4 132.5L510.6 136.7ZM510.3 149.5L505.2 146.0L508.7 140.9L513.8 144.4ZM518.5 118.1L513.4 114.0L517.5 108.9L522.6 113.0ZM519.0 127.9L513.7 124.6L517.0 119.3L522.3 122.6ZM394.9 128.3L390.0 124.6L393.7 119.7L398.6 123.4ZM406.3 128.6L402.1 123.6L407.1 119.4L411.3 124.4ZM417.7 127.4L412.8 124.1L416.1 119.2L421.0 122.5ZM424.7 134.2L420.5 129.6L425.1 125.4L429.3 130.0ZM432.1 126.0L428.7 121.0L433.7 117.6L437.1 122.6ZM403.6 139.9L400.2 134.7L405.4 131.3L408.8 136.5ZM413.1 137.8L409.7 132.6L414.9 129.2L418.3 134.4ZM432.6 138.8L427.6 134.6L431.8 129.6L436.8 133.8ZM438.7 137.9L435.1 132.7L440.3 129.1L443.9 134.3ZM418.0 145.7L414.2 141.1L418.8 137.3L422.6 141.9ZM429.4 143.9L424.7 139.4L429.2 134.7L433.9 139.2ZM430.0 149.5L426.3 144.4L431.4 140.7L435.1 145.8ZM456.8 124.7L451.9 121.0L455.6 116.1L460.5 119.8ZM465.0 126.2L459.8 122.6L463.4 117.4L468.6 121.0ZM477.2 130.4L471.7 126.9L475.2 121.4L480.7 124.9ZM487.2 129.6L483.3 124.5L488.4 120.6L492.3 125.7ZM465.4 136.5L459.7 133.2L463.0 127.5L468.7 130.8ZM476.3 137.7L472.9 132.9L477.7 129.5L481.1 134.3ZM486.2 140.4L482.6 135.2L487.8 131.6L491.4 136.8ZM499.0 142.4L493.8 139.4L496.8 134.2L502.0 137.2ZM514.7 142.6L509.3 139.2L512.7 133.9L518.1 137.3ZM522.3 144.3L516.5 141.1L519.7 135.3L525.5 138.5ZM473.4 145.1L468.6 140.9L472.8 136.1L477.6 140.3ZM332.2 92.1L328.9 87.2L333.8 83.9L337.1 88.8ZM346.5 94.9L341.6 91.0L345.5 86.1L350.4 90.0ZM337.6 138.4L333.6 133.6L338.4 129.6L342.4 134.4ZM347.7 125.4L342.6 121.7L346.3 116.6L351.4 120.3ZM358.2 138.3L354.7 133.2L359.8 129.7L363.3 134.8ZM347.6 145.3L343.7 140.6L348.4 136.7L352.3 141.4ZM420.8 135.6L416.4 130.8L421.2 126.4L425.6 131.2ZM436.1 131.2L431.8 127.1L435.9 122.8L440.2 126.9ZM500.6 135.5L495.5 131.6L499.4 126.5L504.5 130.4ZM469.8 91.0L465.5 86.3L470.2 82.0L474.5 86.7ZM409.8 93.2L405.8 88.8L410.2 84.8L414.2 89.2ZM459.0 80.2L453.8 77.0L457.0 71.8L462.2 75.0ZM397.9 84.4L393.6 79.9L398.1 75.6L402.4 80.1ZM329.2 90.3L324.7 86.2L328.8 81.7L333.3 85.8ZM444.9 142.4L439.6 138.9L443.1 133.6L448.4 137.1ZM496.7 95.3L491.7 91.7L495.3 86.7L500.3 90.3ZM516.2 123.3L510.7 120.2L513.8 114.7L519.3 117.8ZM481.1 137.3L477.7 132.1L482.9 128.7L486.3 133.9Z" fill="#050505"/>
<path d="M330.0 78.7l2.5 -0.4M337.1 84.3l-2.1 0.1M352.3 91.8l0.6 2.5M341.2 72.7l-0.7 -2.6M342.2 93.0l2.6 0.4M331.8 92.6l2.7 -0.7M339.6 99.0l-2.9 -0.0M355.3 108.7l0.7 -2.9M357.1 118.8l-0.4 -1.9M352.6 126.8l-0.1 -2.8M358.5 138.2l2.8 -0.2M341.4 125.5l-0.7 -2.4M349.1 130.4l-0.4 2.1M362.3 121.5l-2.9 0.8M380.6 132.6l-2.8 -0.6M364.9 137.1l0.3 2.5M370.5 76.2l-2.9 -0.6M382.2 77.2l-0.1 -1.8M383.8 84.9l-1.9 0.1M427.5 84.9l0.4 -2.0M447.7 84.9l0.5 2.9M394.2 70.3l0.1 -2.1M404.3 77.0l-2.3 0.6M403.5 92.9l-2.8 -0.4M408.5 102.5l-2.2 0.1M420.5 74.5l-0.3 -2.5M444.2 98.3l1.8 -0.1M457.8 97.5l2.5 -0.2M465.9 72.5l2.7 0.6M455.9 76.1l0.1 -2.9M465.4 82.3l-2.8 0.7M464.7 97.1l-0.3 2.0M459.4 94.6l1.8 -0.3M471.2 97.8l2.7 0.5M485.5 74.7l0.5 1.9M499.7 80.4l0.4 -2.5M499.2 96.9l0.1 2.8M496.7 97.3l3.0 0.3M507.1 72.2l0.3 -2.0M516.0 72.2l-0.6 -2.2M529.3 80.7l0.5 2.6M511.0 83.6l-0.2 -2.3M521.5 100.5l2.6 -0.7M505.4 115.8l0.3 2.1M513.2 120.4l2.1 -0.0M500.1 121.0l-0.4 -1.9M511.8 135.7l-0.4 2.7M506.4 140.9l0.0 2.4M510.3 149.5l0.4 2.6M518.5 118.1l0.2 1.8M390.0 124.6l-1.9 0.3M407.1 119.4l0.3 -2.8M433.7 117.6l0.5 -2.4M408.8 136.5l2.8 0.6M418.3 134.4l1.9 0.4M436.8 133.8l2.7 -0.2M435.1 132.7l-1.9 -0.4M414.2 141.1l-2.8 -0.3M431.4 140.7l0.4 -2.8M468.6 121.0l2.7 -0.5M471.7 126.9l-2.3 0.5M492.3 125.7l3.0 0.4M493.8 139.4l-2.6 0.7M522.3 144.3l0.6 2.1M473.4 145.1l0.2 2.1M333.8 83.9l0.3 -1.8M341.6 91.0l-2.6 0.3M338.4 129.6l0.2 -1.9M346.3 116.6l-0.3 -1.9M421.2 126.4l0.1 -2.6M435.9 122.8l-0.0 -1.9M470.2 82.0l0.1 -2.9M329.2 90.3l0.1 1.9M448.4 137.1l2.2 -0.4M513.8 114.7l-0.8 -2.7" stroke="#050505" stroke-width="1.0" fill="none"/>
<path d="M361 17.8 C358.5 30 357 45 357.8 60 C359 72 362 82 367 90.5 C372 97 380 100.5 388 102.8 C400 105.5 418 108.5 432 112.5 C438 114 442 116 443.5 118" fill="none" stroke="#ee1c1c" stroke-width="1.5" stroke-dasharray="3.4 2.1"/>
<path d="M466.6 38.9 C468.5 52 472 66 475.5 80 C478.5 91 481 100 478.8 106.5 C476 112 468 114.3 460 115.2 C453 116 447 116.3 443.8 118.4" fill="none" stroke="#ee1c1c" stroke-width="1.5" stroke-dasharray="3.4 2.1"/>
<path d="M444.2 119.5 C445.5 132 446.2 145 446.5 157" fill="none" stroke="#ee1c1c" stroke-width="1.5" stroke-dasharray="3.4 2.1"/>
<path d="M446.6 161.4 L444.3 156.8 L448.9 156.8 Z" fill="#ee1c1c"/>
<path d="M314.9 50.8 Q322.0 72.2 332.0 71.6 Q342.6 72.2 350.1 44.8 L345.1 44.8 Q339.4 69.5 332.0 69.2 Q324.3 69.5 318.3 50.8 Z" fill="#e60c0c"/>
<path d="M316.3 44.8 L320.6 51.2 L312.6 51.2 Z" fill="#e60c0c"/>
<path d="M377.8 46.5 Q384.3 67.4 393.8 66.8 Q404.2 67.4 411.6 40.3 L406.6 40.3 Q401.0 64.7 393.8 64.4 Q386.7 64.7 381.2 46.5 Z" fill="#e60c0c"/>
<path d="M379.2 40.3 L383.5 46.9 L375.5 46.9 Z" fill="#e60c0c"/>
<path d="M428.7 41.7 Q435.4 67.4 445.0 66.8 Q454.6 67.4 461.2 48.4 L457.8 48.4 Q452.2 64.7 445.0 64.4 Q438.6 64.7 433.7 41.7 Z" fill="#5ab5e4"/>
<path d="M459.8 41.7 L463.5 48.8 L455.5 48.8 Z" fill="#5ab5e4"/>
<path d="M468.8 40.3 Q475.0 67.4 484.2 66.8 Q494.2 67.4 501.2 47.0 L497.8 47.0 Q491.8 64.7 484.2 64.4 Q478.2 64.7 473.8 40.3 Z" fill="#5ab5e4"/>
<path d="M499.8 40.3 L503.5 47.4 L495.5 47.4 Z" fill="#5ab5e4"/>
<circle cx="344.9" cy="32.3" r="9.8" fill="url(#redsph)"/>
<text x="344.6" y="35.3" font-family="Liberation Serif, serif" font-size="8.4" text-anchor="middle" fill="#1a0000" stroke="#1a0000" stroke-width="0.2">Heat</text>
<circle cx="378.4" cy="31.9" r="6.1" fill="url(#redsph)"/>
<text x="378.1" y="33.7" font-family="Liberation Serif, serif" font-size="5.0" text-anchor="middle" fill="#1a0000" stroke="#1a0000" stroke-width="0.2">Heat</text>
<circle cx="373.9" cy="66.1" r="4.6" fill="url(#redsph)"/>
<text x="373.6" y="67.5" font-family="Liberation Serif, serif" font-size="3.8" text-anchor="middle" fill="#1a0000" stroke="#1a0000" stroke-width="0.2">Heat</text>
<circle cx="420.9" cy="59.6" r="5.8" fill="url(#redsph)"/>
<text x="420.6" y="61.3" font-family="Liberation Serif, serif" font-size="4.8" text-anchor="middle" fill="#1a0000" stroke="#1a0000" stroke-width="0.2">Heat</text>
<circle cx="450.8" cy="32.2" r="6.3" fill="url(#bluesph)"/>
<text x="450.2" y="33.6" font-family="Liberation Serif, serif" font-size="4.6" font-weight="bold" text-anchor="middle" fill="#0a1e2c" stroke="#0a1e2c" stroke-width="0.2">O<tspan font-size="2.8" dy="1.1">2</tspan></text>
<circle cx="511.7" cy="35.5" r="9.9" fill="url(#bluesph)"/>
<text x="510.7" y="38.0" font-family="Liberation Serif, serif" font-size="8.2" font-weight="bold" text-anchor="middle" fill="#0a1e2c" stroke="#0a1e2c" stroke-width="0.2">O<tspan font-size="4.9" dy="2.0">2</tspan></text>
<circle cx="512.4" cy="62.7" r="6.3" fill="url(#bluesph)"/>
<text x="511.8" y="64.1" font-family="Liberation Serif, serif" font-size="4.6" font-weight="bold" text-anchor="middle" fill="#0a1e2c" stroke="#0a1e2c" stroke-width="0.2">O<tspan font-size="2.8" dy="1.1">2</tspan></text>
<circle cx="431.7" cy="73.4" r="6.3" fill="url(#bluesph)"/>
<text x="431.1" y="74.8" font-family="Liberation Serif, serif" font-size="4.6" font-weight="bold" text-anchor="middle" fill="#0a1e2c" stroke="#0a1e2c" stroke-width="0.2">O<tspan font-size="2.8" dy="1.1">2</tspan></text>
<path d="M35.8 197.0V370.6H250.6" stroke="#4a4a4a" stroke-width="1.1" fill="none"/>
<path d="M35.80 370.6v3.2" stroke="#4a4a4a" stroke-width="1"/>
<text x="35.80" y="383.40" font-family="Liberation Serif, serif" font-size="8.8" text-anchor="middle" fill="#222" stroke="#222" stroke-width="0.2">0</text>
<path d="M62.61 370.6v3.2" stroke="#4a4a4a" stroke-width="1"/>
<text x="62.61" y="383.40" font-family="Liberation Serif, serif" font-size="8.8" text-anchor="middle" fill="#222" stroke="#222" stroke-width="0.2">250</text>
<path d="M89.42 370.6v3.2" stroke="#4a4a4a" stroke-width="1"/>
<text x="89.42" y="383.40" font-family="Liberation Serif, serif" font-size="8.8" text-anchor="middle" fill="#222" stroke="#222" stroke-width="0.2">500</text>
<path d="M116.24 370.6v3.2" stroke="#4a4a4a" stroke-width="1"/>
<text x="116.24" y="383.40" font-family="Liberation Serif, serif" font-size="8.8" text-anchor="middle" fill="#222" stroke="#222" stroke-width="0.2">750</text>
<path d="M143.05 370.6v3.2" stroke="#4a4a4a" stroke-width="1"/>
<text x="143.05" y="383.40" font-family="Liberation Serif, serif" font-size="8.8" text-anchor="middle" fill="#222" stroke="#222" stroke-width="0.2">1000</text>
<path d="M169.86 370.6v3.2" stroke="#4a4a4a" stroke-width="1"/>
<text x="169.86" y="383.40" font-family="Liberation Serif, serif" font-size="8.8" text-anchor="middle" fill="#222" stroke="#222" stroke-width="0.2">1250</text>
<path d="M196.68 370.6v3.2" stroke="#4a4a4a" stroke-width="1"/>
<text x="196.68" y="383.40" font-family="Liberation Serif, serif" font-size="8.8" text-anchor="middle" fill="#222" stroke="#222" stroke-width="0.2">1500</text>
<path d="M223.49 370.6v3.2" stroke="#4a4a4a" stroke-width="1"/>
<text x="223.49" y="383.40" font-family="Liberation Serif, serif" font-size="8.8" text-anchor="middle" fill="#222" stroke="#222" stroke-width="0.2">1750</text>
<path d="M250.30 370.6v3.2" stroke="#4a4a4a" stroke-width="1"/>
<text x="250.30" y="383.40" font-family="Liberation Serif, serif" font-size="8.8" text-anchor="middle" fill="#222" stroke="#222" stroke-width="0.2">2000</text>
<path d="M49.21 370.6v2" stroke="#4a4a4a" stroke-width="0.9"/>
<path d="M76.02 370.6v2" stroke="#4a4a4a" stroke-width="0.9"/>
<path d="M102.83 370.6v2" stroke="#4a4a4a" stroke-width="0.9"/>
<path d="M129.64 370.6v2" stroke="#4a4a4a" stroke-width="0.9"/>
<path d="M156.46 370.6v2" stroke="#4a4a4a" stroke-width="0.9"/>
<path d="M183.27 370.6v2" stroke="#4a4a4a" stroke-width="0.9"/>
<path d="M210.08 370.6v2" stroke="#4a4a4a" stroke-width="0.9"/>
<path d="M236.89 370.6v2" stroke="#4a4a4a" stroke-width="0.9"/>
<path d="M35.8 370.60h-3.4" stroke="#4a4a4a" stroke-width="1"/>
<text x="30.60" y="373.70" font-family="Liberation Serif, serif" font-size="8.8" text-anchor="end" fill="#222" stroke="#222" stroke-width="0.2">0</text>
<path d="M35.8 331.98h-3.4" stroke="#4a4a4a" stroke-width="1"/>
<text x="30.60" y="335.08" font-family="Liberation Serif, serif" font-size="8.8" text-anchor="end" fill="#222" stroke="#222" stroke-width="0.2">100</text>
<path d="M35.8 293.36h-3.4" stroke="#4a4a4a" stroke-width="1"/>
<text x="30.60" y="296.46" font-family="Liberation Serif, serif" font-size="8.8" text-anchor="end" fill="#222" stroke="#222" stroke-width="0.2">200</text>
<path d="M35.8 254.74h-3.4" stroke="#4a4a4a" stroke-width="1"/>
<text x="30.60" y="257.84" font-family="Liberation Serif, serif" font-size="8.8" text-anchor="end" fill="#222" stroke="#222" stroke-width="0.2">300</text>
<path d="M35.8 216.12h-3.4" stroke="#4a4a4a" stroke-width="1"/>
<text x="30.60" y="219.22" font-family="Liberation Serif, serif" font-size="8.8" text-anchor="end" fill="#222" stroke="#222" stroke-width="0.2">400</text>
<path d="M35.8 351.29h-2" stroke="#4a4a4a" stroke-width="0.9"/>
<path d="M35.8 312.67h-2" stroke="#4a4a4a" stroke-width="0.9"/>
<path d="M35.8 274.05h-2" stroke="#4a4a4a" stroke-width="0.9"/>
<path d="M35.8 235.43h-2" stroke="#4a4a4a" stroke-width="0.9"/>
<path d="M35.8 196.81h-2" stroke="#4a4a4a" stroke-width="0.9"/>
<text x="143" y="397.4" font-family="Liberation Serif, serif" font-size="9.2" text-anchor="middle" fill="#222" stroke="#222" stroke-width="0.2">Time (s)</text>
<text transform="translate(12.6 284) rotate(-90)" font-family="Liberation Serif, serif" font-size="9" text-anchor="middle" fill="#222" stroke="#222" stroke-width="0.2">Temperature (°C)</text>
<path d="M307.6 202.7V371.9H515.6" stroke="#4a4a4a" stroke-width="1.1" fill="none"/>
<path d="M307.60 371.9v3.2" stroke="#4a4a4a" stroke-width="1"/>
<text x="307.60" y="384.70" font-family="Liberation Serif, serif" font-size="8.8" text-anchor="middle" fill="#222" stroke="#222" stroke-width="0.2">0</text>
<path d="M330.63 371.9v3.2" stroke="#4a4a4a" stroke-width="1"/>
<text x="330.63" y="384.70" font-family="Liberation Serif, serif" font-size="8.8" text-anchor="middle" fill="#222" stroke="#222" stroke-width="0.2">100</text>
<path d="M353.66 371.9v3.2" stroke="#4a4a4a" stroke-width="1"/>
<text x="353.66" y="384.70" font-family="Liberation Serif, serif" font-size="8.8" text-anchor="middle" fill="#222" stroke="#222" stroke-width="0.2">200</text>
<path d="M376.69 371.9v3.2" stroke="#4a4a4a" stroke-width="1"/>
<text x="376.69" y="384.70" font-family="Liberation Serif, serif" font-size="8.8" text-anchor="middle" fill="#222" stroke="#222" stroke-width="0.2">300</text>
<path d="M399.72 371.9v3.2" stroke="#4a4a4a" stroke-width="1"/>
<text x="399.72" y="384.70" font-family="Liberation Serif, serif" font-size="8.8" text-anchor="middle" fill="#222" stroke="#222" stroke-width="0.2">400</text>
<path d="M422.75 371.9v3.2" stroke="#4a4a4a" stroke-width="1"/>
<text x="422.75" y="384.70" font-family="Liberation Serif, serif" font-size="8.8" text-anchor="middle" fill="#222" stroke="#222" stroke-width="0.2">500</text>
<path d="M445.78 371.9v3.2" stroke="#4a4a4a" stroke-width="1"/>
<text x="445.78" y="384.70" font-family="Liberation Serif, serif" font-size="8.8" text-anchor="middle" fill="#222" stroke="#222" stroke-width="0.2">600</text>
<path d="M468.81 371.9v3.2" stroke="#4a4a4a" stroke-width="1"/>
<text x="468.81" y="384.70" font-family="Liberation Serif, serif" font-size="8.8" text-anchor="middle" fill="#222" stroke="#222" stroke-width="0.2">700</text>
<path d="M491.84 371.9v3.2" stroke="#4a4a4a" stroke-width="1"/>
<text x="491.84" y="384.70" font-family="Liberation Serif, serif" font-size="8.8" text-anchor="middle" fill="#222" stroke="#222" stroke-width="0.2">800</text>
<path d="M514.87 371.9v3.2" stroke="#4a4a4a" stroke-width="1"/>
<text x="514.87" y="384.70" font-family="Liberation Serif, serif" font-size="8.8" text-anchor="middle" fill="#222" stroke="#222" stroke-width="0.2">900</text>
<path d="M319.12 371.9v2" stroke="#4a4a4a" stroke-width="0.9"/>
<path d="M342.15 371.9v2" stroke="#4a4a4a" stroke-width="0.9"/>
<path d="M365.18 371.9v2" stroke="#4a4a4a" stroke-width="0.9"/>
<path d="M388.21 371.9v2" stroke="#4a4a4a" stroke-width="0.9"/>
<path d="M411.24 371.9v2" stroke="#4a4a4a" stroke-width="0.9"/>
<path d="M434.27 371.9v2" stroke="#4a4a4a" stroke-width="0.9"/>
<path d="M457.30 371.9v2" stroke="#4a4a4a" stroke-width="0.9"/>
<path d="M480.33 371.9v2" stroke="#4a4a4a" stroke-width="0.9"/>
<path d="M503.36 371.9v2" stroke="#4a4a4a" stroke-width="0.9"/>
<path d="M307.6 371.90h-3.4" stroke="#4a4a4a" stroke-width="1"/>
<text x="302.40" y="375.00" font-family="Liberation Serif, serif" font-size="8.8" text-anchor="end" fill="#222" stroke="#222" stroke-width="0.2">20</text>
<path d="M307.6 353.09h-3.4" stroke="#4a4a4a" stroke-width="1"/>
<text x="302.40" y="356.19" font-family="Liberation Serif, serif" font-size="8.8" text-anchor="end" fill="#222" stroke="#222" stroke-width="0.2">30</text>
<path d="M307.6 334.28h-3.4" stroke="#4a4a4a" stroke-width="1"/>
<text x="302.40" y="337.38" font-family="Liberation Serif, serif" font-size="8.8" text-anchor="end" fill="#222" stroke="#222" stroke-width="0.2">40</text>
<path d="M307.6 315.47h-3.4" stroke="#4a4a4a" stroke-width="1"/>
<text x="302.40" y="318.57" font-family="Liberation Serif, serif" font-size="8.8" text-anchor="end" fill="#222" stroke="#222" stroke-width="0.2">50</text>
<path d="M307.6 296.66h-3.4" stroke="#4a4a4a" stroke-width="1"/>
<text x="302.40" y="299.76" font-family="Liberation Serif, serif" font-size="8.8" text-anchor="end" fill="#222" stroke="#222" stroke-width="0.2">60</text>
<path d="M307.6 277.85h-3.4" stroke="#4a4a4a" stroke-width="1"/>
<text x="302.40" y="280.95" font-family="Liberation Serif, serif" font-size="8.8" text-anchor="end" fill="#222" stroke="#222" stroke-width="0.2">70</text>
<path d="M307.6 259.04h-3.4" stroke="#4a4a4a" stroke-width="1"/>
<text x="302.40" y="262.14" font-family="Liberation Serif, serif" font-size="8.8" text-anchor="end" fill="#222" stroke="#222" stroke-width="0.2">80</text>
<path d="M307.6 240.23h-3.4" stroke="#4a4a4a" stroke-width="1"/>
<text x="302.40" y="243.33" font-family="Liberation Serif, serif" font-size="8.8" text-anchor="end" fill="#222" stroke="#222" stroke-width="0.2">90</text>
<path d="M307.6 221.42h-3.4" stroke="#4a4a4a" stroke-width="1"/>
<text x="302.40" y="224.52" font-family="Liberation Serif, serif" font-size="8.8" text-anchor="end" fill="#222" stroke="#222" stroke-width="0.2">100</text>
<path d="M307.6 202.61h-3.4" stroke="#4a4a4a" stroke-width="1"/>
<text x="302.40" y="205.71" font-family="Liberation Serif, serif" font-size="8.8" text-anchor="end" fill="#222" stroke="#222" stroke-width="0.2">110</text>
<path d="M307.6 362.50h-2" stroke="#4a4a4a" stroke-width="0.9"/>
<path d="M307.6 343.69h-2" stroke="#4a4a4a" stroke-width="0.9"/>
<path d="M307.6 324.88h-2" stroke="#4a4a4a" stroke-width="0.9"/>
<path d="M307.6 306.06h-2" stroke="#4a4a4a" stroke-width="0.9"/>
<path d="M307.6 287.25h-2" stroke="#4a4a4a" stroke-width="0.9"/>
<path d="M307.6 268.44h-2" stroke="#4a4a4a" stroke-width="0.9"/>
<path d="M307.6 249.63h-2" stroke="#4a4a4a" stroke-width="0.9"/>
<path d="M307.6 230.82h-2" stroke="#4a4a4a" stroke-width="0.9"/>
<path d="M307.6 212.01h-2" stroke="#4a4a4a" stroke-width="0.9"/>
<text x="412" y="398.3" font-family="Liberation Serif, serif" font-size="8.8" text-anchor="middle" fill="#222" stroke="#222" stroke-width="0.2">Temperature (°C)</text>
<text transform="translate(285 287) rotate(-90)" font-family="Liberation Serif, serif" font-size="9.4" text-anchor="middle" fill="#222" stroke="#222" stroke-width="0.2">Weight (%)</text>
<polyline points="35.80,361.33 41.16,330.05 51.89,288.73 62.61,265.94 73.34,252.42 84.06,243.15 94.79,238.13 105.51,234.66 116.24,233.11 126.96,231.57 137.69,230.02 148.41,230.02 159.14,229.44 169.86,227.82 180.59,224.31 191.31,219.60 202.04,216.89 212.76,213.53 223.49,210.13" fill="none" stroke="#ff9a9a" stroke-width="0.7"/>
<polyline points="35.80,361.33 41.16,333.91 51.89,303.02 62.61,286.41 73.34,275.75 84.06,268.84 94.79,263.24 105.51,259.37 116.24,257.44 126.96,256.05 137.69,255.71 148.41,255.51 159.14,255.40 169.86,255.32 180.59,255.28 191.31,255.24 202.04,255.20 212.76,255.16 223.49,255.13" fill="none" stroke="#b06060" stroke-width="0.7"/>
<polyline points="35.80,361.33 41.16,353.99 51.89,337.77 62.61,322.71 73.34,308.81 84.06,297.22 94.79,287.76 105.51,281.16 116.24,275.98 126.96,271.54 137.69,267.48 148.41,264.40 159.14,261.69 169.86,260.34 180.59,259.53 191.31,259.26 202.04,258.99 212.76,258.83 223.49,258.83" fill="none" stroke="#90c890" stroke-width="0.7"/>
<polyline points="35.80,361.33 41.16,352.83 51.89,336.23 62.61,318.85 73.34,305.33 84.06,295.29 94.79,286.41 105.51,279.26 116.24,274.44 126.96,270.19 137.69,266.33 148.41,263.24 159.14,261.04 169.86,258.99 180.59,257.13 191.31,256.28 202.04,255.90 212.76,255.90 223.49,255.90" fill="none" stroke="#9090e0" stroke-width="0.7"/>
<polyline points="35.80,361.33 41.16,355.15 51.89,333.91 62.61,314.79 73.34,300.31 84.06,289.50 94.79,280.23 105.51,273.28 116.24,267.87 126.96,263.62 137.69,259.95 148.41,257.83 159.14,256.28 169.86,255.51 180.59,255.51 191.31,255.13 202.04,255.13 212.76,255.13 223.49,254.93" fill="none" stroke="#ff90ff" stroke-width="0.7"/>
<polyline points="35.80,361.33 41.16,320.01 51.89,279.46 62.61,263.62 73.34,257.44 84.06,254.35 94.79,253.20 105.51,252.23 116.24,250.49 126.96,249.02 137.69,249.02 148.41,249.02 159.14,249.02 169.86,249.02 180.59,248.33 191.31,247.52 202.04,246.82 212.76,246.44 223.49,246.24" fill="none" stroke="#909090" stroke-width="0.7"/>
<path d="M35.80 358.69L38.53 363.29L33.07 363.29Z" fill="#ff0000"/><path d="M41.16 327.40L43.89 332.00L38.43 332.00Z" fill="#ff0000"/><path d="M51.89 286.08L54.62 290.68L49.16 290.68Z" fill="#ff0000"/><path d="M62.61 263.29L65.34 267.89L59.88 267.89Z" fill="#ff0000"/><path d="M73.34 249.78L76.07 254.38L70.61 254.38Z" fill="#ff0000"/><path d="M84.06 240.51L86.79 245.11L81.33 245.11Z" fill="#ff0000"/><path d="M94.79 235.49L97.52 240.09L92.06 240.09Z" fill="#ff0000"/><path d="M105.51 232.01L108.24 236.61L102.78 236.61Z" fill="#ff0000"/><path d="M116.24 230.47L118.97 235.07L113.51 235.07Z" fill="#ff0000"/><path d="M126.96 228.92L129.69 233.52L124.23 233.52Z" fill="#ff0000"/><path d="M137.69 227.38L140.42 231.98L134.96 231.98Z" fill="#ff0000"/><path d="M148.41 227.38L151.14 231.98L145.68 231.98Z" fill="#ff0000"/><path d="M159.14 226.80L161.87 231.40L156.41 231.40Z" fill="#ff0000"/><path d="M169.86 225.18L172.59 229.78L167.13 229.78Z" fill="#ff0000"/><path d="M180.59 221.66L183.32 226.26L177.86 226.26Z" fill="#ff0000"/><path d="M191.31 216.95L194.04 221.55L188.58 221.55Z" fill="#ff0000"/><path d="M202.04 214.25L204.77 218.85L199.31 218.85Z" fill="#ff0000"/><path d="M212.76 210.89L215.49 215.49L210.03 215.49Z" fill="#ff0000"/><path d="M223.49 207.49L226.22 212.09L220.76 212.09Z" fill="#ff0000"/>
<path d="M35.80 363.98L38.53 359.38L33.07 359.38Z" fill="#7f0000"/><path d="M41.16 336.56L43.89 331.96L38.43 331.96Z" fill="#7f0000"/><path d="M51.89 305.66L54.62 301.06L49.16 301.06Z" fill="#7f0000"/><path d="M62.61 289.05L65.34 284.45L59.88 284.45Z" fill="#7f0000"/><path d="M73.34 278.39L76.07 273.79L70.61 273.79Z" fill="#7f0000"/><path d="M84.06 271.48L86.79 266.88L81.33 266.88Z" fill="#7f0000"/><path d="M94.79 265.88L97.52 261.28L92.06 261.28Z" fill="#7f0000"/><path d="M105.51 262.02L108.24 257.42L102.78 257.42Z" fill="#7f0000"/><path d="M116.24 260.09L118.97 255.49L113.51 255.49Z" fill="#7f0000"/><path d="M126.96 258.70L129.69 254.10L124.23 254.10Z" fill="#7f0000"/><path d="M137.69 258.35L140.42 253.75L134.96 253.75Z" fill="#7f0000"/><path d="M148.41 258.16L151.14 253.56L145.68 253.56Z" fill="#7f0000"/><path d="M159.14 258.04L161.87 253.44L156.41 253.44Z" fill="#7f0000"/><path d="M169.86 257.96L172.59 253.36L167.13 253.36Z" fill="#7f0000"/><path d="M180.59 257.93L183.32 253.33L177.86 253.33Z" fill="#7f0000"/><path d="M191.31 257.89L194.04 253.29L188.58 253.29Z" fill="#7f0000"/><path d="M202.04 257.85L204.77 253.25L199.31 253.25Z" fill="#7f0000"/><path d="M212.76 257.81L215.49 253.21L210.03 253.21Z" fill="#7f0000"/><path d="M223.49 257.77L226.22 253.17L220.76 253.17Z" fill="#7f0000"/>
<circle cx="35.80" cy="361.33" r="2.30" fill="#008000"/><circle cx="41.16" cy="353.99" r="2.30" fill="#008000"/><circle cx="51.89" cy="337.77" r="2.30" fill="#008000"/><circle cx="62.61" cy="322.71" r="2.30" fill="#008000"/><circle cx="73.34" cy="308.81" r="2.30" fill="#008000"/><circle cx="84.06" cy="297.22" r="2.30" fill="#008000"/><circle cx="94.79" cy="287.76" r="2.30" fill="#008000"/><circle cx="105.51" cy="281.16" r="2.30" fill="#008000"/><circle cx="116.24" cy="275.98" r="2.30" fill="#008000"/><circle cx="126.96" cy="271.54" r="2.30" fill="#008000"/><circle cx="137.69" cy="267.48" r="2.30" fill="#008000"/><circle cx="148.41" cy="264.40" r="2.30" fill="#008000"/><circle cx="159.14" cy="261.69" r="2.30" fill="#008000"/><circle cx="169.86" cy="260.34" r="2.30" fill="#008000"/><circle cx="180.59" cy="259.53" r="2.30" fill="#008000"/><circle cx="191.31" cy="259.26" r="2.30" fill="#008000"/><circle cx="202.04" cy="258.99" r="2.30" fill="#008000"/><circle cx="212.76" cy="258.83" r="2.30" fill="#008000"/><circle cx="223.49" cy="258.83" r="2.30" fill="#008000"/>
<path d="M35.80 358.69L38.10 361.33L35.80 363.98L33.50 361.33Z" fill="#0000c0"/><path d="M41.16 350.19L43.46 352.83L41.16 355.48L38.86 352.83Z" fill="#0000c0"/><path d="M51.89 333.58L54.19 336.23L51.89 338.87L49.59 336.23Z" fill="#0000c0"/><path d="M62.61 316.20L64.91 318.85L62.61 321.49L60.31 318.85Z" fill="#0000c0"/><path d="M73.34 302.69L75.64 305.33L73.34 307.98L71.04 305.33Z" fill="#0000c0"/><path d="M84.06 292.65L86.36 295.29L84.06 297.94L81.76 295.29Z" fill="#0000c0"/><path d="M94.79 283.76L97.09 286.41L94.79 289.05L92.49 286.41Z" fill="#0000c0"/><path d="M105.51 276.62L107.81 279.26L105.51 281.91L103.21 279.26Z" fill="#0000c0"/><path d="M116.24 271.79L118.54 274.44L116.24 277.08L113.94 274.44Z" fill="#0000c0"/><path d="M126.96 267.54L129.26 270.19L126.96 272.83L124.66 270.19Z" fill="#0000c0"/><path d="M137.69 263.68L139.99 266.33L137.69 268.97L135.39 266.33Z" fill="#0000c0"/><path d="M148.41 260.59L150.71 263.24L148.41 265.88L146.11 263.24Z" fill="#0000c0"/><path d="M159.14 258.39L161.44 261.04L159.14 263.68L156.84 261.04Z" fill="#0000c0"/><path d="M169.86 256.34L172.16 258.99L169.86 261.63L167.56 258.99Z" fill="#0000c0"/><path d="M180.59 254.49L182.89 257.13L180.59 259.78L178.29 257.13Z" fill="#0000c0"/><path d="M191.31 253.64L193.61 256.28L191.31 258.93L189.01 256.28Z" fill="#0000c0"/><path d="M202.04 253.25L204.34 255.90L202.04 258.54L199.74 255.90Z" fill="#0000c0"/><path d="M212.76 253.25L215.06 255.90L212.76 258.54L210.46 255.90Z" fill="#0000c0"/><path d="M223.49 253.25L225.79 255.90L223.49 258.54L221.19 255.90Z" fill="#0000c0"/>
<circle cx="35.80" cy="361.33" r="2.30" fill="#ff00ff"/><circle cx="41.16" cy="355.15" r="2.30" fill="#ff00ff"/><circle cx="51.89" cy="333.91" r="2.30" fill="#ff00ff"/><circle cx="62.61" cy="314.79" r="2.30" fill="#ff00ff"/><circle cx="73.34" cy="300.31" r="2.30" fill="#ff00ff"/><circle cx="84.06" cy="289.50" r="2.30" fill="#ff00ff"/><circle cx="94.79" cy="280.23" r="2.30" fill="#ff00ff"/><circle cx="105.51" cy="273.28" r="2.30" fill="#ff00ff"/><circle cx="116.24" cy="267.87" r="2.30" fill="#ff00ff"/><circle cx="126.96" cy="263.62" r="2.30" fill="#ff00ff"/><circle cx="137.69" cy="259.95" r="2.30" fill="#ff00ff"/><circle cx="148.41" cy="257.83" r="2.30" fill="#ff00ff"/><circle cx="159.14" cy="256.28" r="2.30" fill="#ff00ff"/><circle cx="169.86" cy="255.51" r="2.30" fill="#ff00ff"/><circle cx="180.59" cy="255.51" r="2.30" fill="#ff00ff"/><circle cx="191.31" cy="255.13" r="2.30" fill="#ff00ff"/><circle cx="202.04" cy="255.13" r="2.30" fill="#ff00ff"/><circle cx="212.76" cy="255.13" r="2.30" fill="#ff00ff"/><circle cx="223.49" cy="254.93" r="2.30" fill="#ff00ff"/>
<path d="M35.80 358.85L33.65 360.09L33.65 362.57L35.80 363.82L37.95 362.57L37.95 360.09Z" fill="#000000"/><path d="M41.16 317.52L39.01 318.77L39.01 321.25L41.16 322.49L43.31 321.25L43.31 318.77Z" fill="#000000"/><path d="M51.89 276.97L49.74 278.21L49.74 280.70L51.89 281.94L54.04 280.70L54.04 278.21Z" fill="#000000"/><path d="M62.61 261.14L60.46 262.38L60.46 264.86L62.61 266.11L64.76 264.86L64.76 262.38Z" fill="#000000"/><path d="M73.34 254.96L71.19 256.20L71.19 258.69L73.34 259.93L75.49 258.69L75.49 256.20Z" fill="#000000"/><path d="M84.06 251.87L81.91 253.11L81.91 255.60L84.06 256.84L86.21 255.60L86.21 253.11Z" fill="#000000"/><path d="M94.79 250.71L92.64 251.95L92.64 254.44L94.79 255.68L96.94 254.44L96.94 251.95Z" fill="#000000"/><path d="M105.51 249.75L103.36 250.99L103.36 253.47L105.51 254.71L107.66 253.47L107.66 250.99Z" fill="#000000"/><path d="M116.24 248.01L114.09 249.25L114.09 251.73L116.24 252.98L118.39 251.73L118.39 249.25Z" fill="#000000"/><path d="M126.96 246.54L124.81 247.78L124.81 250.27L126.96 251.51L129.11 250.27L129.11 247.78Z" fill="#000000"/><path d="M137.69 246.54L135.54 247.78L135.54 250.27L137.69 251.51L139.84 250.27L139.84 247.78Z" fill="#000000"/><path d="M148.41 246.54L146.26 247.78L146.26 250.27L148.41 251.51L150.56 250.27L150.56 247.78Z" fill="#000000"/><path d="M159.14 246.54L156.99 247.78L156.99 250.27L159.14 251.51L161.29 250.27L161.29 247.78Z" fill="#000000"/><path d="M169.86 246.54L167.71 247.78L167.71 250.27L169.86 251.51L172.01 250.27L172.01 247.78Z" fill="#000000"/><path d="M180.59 245.85L178.44 247.09L178.44 249.57L180.59 250.81L182.74 249.57L182.74 247.09Z" fill="#000000"/><path d="M191.31 245.03L189.16 246.28L189.16 248.76L191.31 250.00L193.46 248.76L193.46 246.28Z" fill="#000000"/><path d="M202.04 244.34L199.89 245.58L199.89 248.06L202.04 249.31L204.19 248.06L204.19 245.58Z" fill="#000000"/><path d="M212.76 243.95L210.61 245.19L210.61 247.68L212.76 248.92L214.91 247.68L214.91 245.19Z" fill="#000000"/><path d="M223.49 243.76L221.34 245.00L221.34 247.49L223.49 248.73L225.64 247.49L225.64 245.00Z" fill="#000000"/>
<polyline points="313.36,221.42 319.12,223.11 324.87,224.62 330.63,224.62 336.39,226.12 342.15,227.44 347.90,229.88 353.66,233.08 359.42,236.09 365.18,239.85 370.93,250.58 376.69,261.49 382.45,269.01 388.21,278.98 393.96,292.15 399.72,304.18 405.48,320.17 411.24,326.38 416.99,330.71 422.75,332.96 428.51,335.22 434.27,335.97 440.02,337.29 445.78,338.42 451.54,339.36 457.30,340.68 463.05,342.18 468.81,343.87 474.57,345.94 480.33,348.76 486.08,351.77 491.84,355.16" fill="none" stroke="#ff9a9a" stroke-width="0.7"/>
<polyline points="313.36,221.42 319.12,222.74 324.87,223.30 330.63,223.68 336.39,224.81 342.15,226.69 347.90,229.32 353.66,231.77 359.42,233.65 365.18,237.41 370.93,245.87 376.69,256.22 382.45,263.74 388.21,275.03 393.96,286.31 399.72,301.55 405.48,314.53 411.24,320.17 416.99,323.37 422.75,324.88 428.51,325.25 434.27,325.63 440.02,326.00 445.78,326.38 451.54,326.94 457.30,327.51 463.05,328.26 468.81,329.01 474.57,329.77 480.33,330.52 486.08,331.27 491.84,332.02" fill="none" stroke="#b06060" stroke-width="0.7"/>
<polyline points="313.36,221.42 319.12,222.36 324.87,223.11 330.63,223.49 336.39,224.05 342.15,224.24 347.90,225.18 353.66,226.31 359.42,227.63 365.18,230.45 370.93,240.23 376.69,246.81 382.45,253.96 388.21,263.55 393.96,275.22 399.72,291.96 405.48,309.83 411.24,318.86 416.99,324.12 422.75,326.76 428.51,327.70 434.27,328.26 440.02,329.01 445.78,329.58 451.54,330.14 457.30,330.71 463.05,331.27 468.81,331.83 474.57,332.40 480.33,332.96 486.08,333.53 491.84,334.28" fill="none" stroke="#90c890" stroke-width="0.7"/>
<polyline points="313.36,221.42 319.12,221.04 324.87,222.92 330.63,223.30 336.39,223.68 342.15,225.18 347.90,228.00 353.66,230.26 359.42,232.14 365.18,234.59 370.93,243.62 376.69,252.46 382.45,259.42 388.21,270.33 393.96,279.17 399.72,293.09 405.48,306.63 411.24,312.65 416.99,317.92 422.75,322.43 428.51,324.50 434.27,325.44 440.02,326.00 445.78,326.76 451.54,327.32 457.30,327.88 463.05,328.64 468.81,329.58 474.57,330.33 480.33,331.08 486.08,331.83 491.84,332.40" fill="none" stroke="#9090e0" stroke-width="0.7"/>
<polyline points="313.36,221.42 319.12,222.36 324.87,223.11 330.63,223.68 336.39,224.05 342.15,224.24 347.90,227.44 353.66,229.51 359.42,231.77 365.18,234.21 370.93,243.05 376.69,252.08 382.45,258.85 388.21,270.33 393.96,280.30 399.72,296.66 405.48,311.71 411.24,316.97 416.99,321.49 422.75,325.06 428.51,326.57 434.27,327.13 440.02,327.88 445.78,328.45 451.54,329.58 457.30,330.14 463.05,330.52 468.81,331.08 474.57,331.83 480.33,332.59 486.08,333.15 491.84,333.90" fill="none" stroke="#ff90ff" stroke-width="0.7"/>
<polyline points="313.36,221.61 319.12,222.36 324.87,223.11 330.63,223.68 336.39,224.43 342.15,227.06 347.90,229.88 353.66,233.08 359.42,234.21 365.18,238.73 370.93,247.75 376.69,257.35 382.45,263.93 388.21,273.52 393.96,287.82 399.72,303.62 405.48,316.97 411.24,322.99 416.99,327.70 422.75,331.27 428.51,332.96 434.27,333.90 440.02,334.84 445.78,335.22 451.54,335.60 457.30,336.16 463.05,336.73 468.81,337.29 474.57,338.04 480.33,338.42 486.08,339.17 491.84,339.73" fill="none" stroke="#909090" stroke-width="0.7"/>
<path d="M313.36 218.77L316.09 223.38L310.63 223.38Z" fill="#ff0000"/><path d="M319.12 220.47L321.84 225.07L316.39 225.07Z" fill="#ff0000"/><path d="M324.87 221.97L327.60 226.57L322.14 226.57Z" fill="#ff0000"/><path d="M330.63 221.97L333.36 226.57L327.90 226.57Z" fill="#ff0000"/><path d="M336.39 223.48L339.12 228.08L333.66 228.08Z" fill="#ff0000"/><path d="M342.15 224.79L344.88 229.39L339.42 229.39Z" fill="#ff0000"/><path d="M347.90 227.24L350.63 231.84L345.17 231.84Z" fill="#ff0000"/><path d="M353.66 230.44L356.39 235.04L350.93 235.04Z" fill="#ff0000"/><path d="M359.42 233.45L362.15 238.05L356.69 238.05Z" fill="#ff0000"/><path d="M365.18 237.21L367.90 241.81L362.45 241.81Z" fill="#ff0000"/><path d="M370.93 247.93L373.66 252.53L368.20 252.53Z" fill="#ff0000"/><path d="M376.69 258.84L379.42 263.44L373.96 263.44Z" fill="#ff0000"/><path d="M382.45 266.36L385.18 270.96L379.72 270.96Z" fill="#ff0000"/><path d="M388.21 276.33L390.94 280.93L385.48 280.93Z" fill="#ff0000"/><path d="M393.96 289.50L396.69 294.10L391.23 294.10Z" fill="#ff0000"/><path d="M399.72 301.54L402.45 306.14L396.99 306.14Z" fill="#ff0000"/><path d="M405.48 317.53L408.21 322.13L402.75 322.13Z" fill="#ff0000"/><path d="M411.24 323.73L413.96 328.33L408.51 328.33Z" fill="#ff0000"/><path d="M416.99 328.06L419.72 332.66L414.26 332.66Z" fill="#ff0000"/><path d="M422.75 330.32L425.48 334.92L420.02 334.92Z" fill="#ff0000"/><path d="M428.51 332.58L431.24 337.18L425.78 337.18Z" fill="#ff0000"/><path d="M434.27 333.33L437.00 337.93L431.54 337.93Z" fill="#ff0000"/><path d="M440.02 334.64L442.75 339.24L437.29 339.24Z" fill="#ff0000"/><path d="M445.78 335.77L448.51 340.37L443.05 340.37Z" fill="#ff0000"/><path d="M451.54 336.71L454.27 341.31L448.81 341.31Z" fill="#ff0000"/><path d="M457.30 338.03L460.02 342.63L454.57 342.63Z" fill="#ff0000"/><path d="M463.05 339.54L465.78 344.14L460.32 344.14Z" fill="#ff0000"/><path d="M468.81 341.23L471.54 345.83L466.08 345.83Z" fill="#ff0000"/><path d="M474.57 343.30L477.30 347.90L471.84 347.90Z" fill="#ff0000"/><path d="M480.33 346.12L483.06 350.72L477.60 350.72Z" fill="#ff0000"/><path d="M486.08 349.13L488.81 353.73L483.35 353.73Z" fill="#ff0000"/><path d="M491.84 352.51L494.57 357.11L489.11 357.11Z" fill="#ff0000"/>
<path d="M313.36 224.06L316.09 219.46L310.63 219.46Z" fill="#7f0000"/><path d="M319.12 225.38L321.84 220.78L316.39 220.78Z" fill="#7f0000"/><path d="M324.87 225.95L327.60 221.35L322.14 221.35Z" fill="#7f0000"/><path d="M330.63 226.32L333.36 221.72L327.90 221.72Z" fill="#7f0000"/><path d="M336.39 227.45L339.12 222.85L333.66 222.85Z" fill="#7f0000"/><path d="M342.15 229.33L344.88 224.73L339.42 224.73Z" fill="#7f0000"/><path d="M347.90 231.97L350.63 227.37L345.17 227.37Z" fill="#7f0000"/><path d="M353.66 234.41L356.39 229.81L350.93 229.81Z" fill="#7f0000"/><path d="M359.42 236.29L362.15 231.69L356.69 231.69Z" fill="#7f0000"/><path d="M365.18 240.05L367.90 235.45L362.45 235.45Z" fill="#7f0000"/><path d="M370.93 248.52L373.66 243.92L368.20 243.92Z" fill="#7f0000"/><path d="M376.69 258.86L379.42 254.26L373.96 254.26Z" fill="#7f0000"/><path d="M382.45 266.39L385.18 261.79L379.72 261.79Z" fill="#7f0000"/><path d="M388.21 277.67L390.94 273.07L385.48 273.07Z" fill="#7f0000"/><path d="M393.96 288.96L396.69 284.36L391.23 284.36Z" fill="#7f0000"/><path d="M399.72 304.20L402.45 299.60L396.99 299.60Z" fill="#7f0000"/><path d="M405.48 317.17L408.21 312.57L402.75 312.57Z" fill="#7f0000"/><path d="M411.24 322.82L413.96 318.22L408.51 318.22Z" fill="#7f0000"/><path d="M416.99 326.02L419.72 321.42L414.26 321.42Z" fill="#7f0000"/><path d="M422.75 327.52L425.48 322.92L420.02 322.92Z" fill="#7f0000"/><path d="M428.51 327.90L431.24 323.30L425.78 323.30Z" fill="#7f0000"/><path d="M434.27 328.27L437.00 323.67L431.54 323.67Z" fill="#7f0000"/><path d="M440.02 328.65L442.75 324.05L437.29 324.05Z" fill="#7f0000"/><path d="M445.78 329.02L448.51 324.42L443.05 324.42Z" fill="#7f0000"/><path d="M451.54 329.59L454.27 324.99L448.81 324.99Z" fill="#7f0000"/><path d="M457.30 330.15L460.02 325.55L454.57 325.55Z" fill="#7f0000"/><path d="M463.05 330.91L465.78 326.31L460.32 326.31Z" fill="#7f0000"/><path d="M468.81 331.66L471.54 327.06L466.08 327.06Z" fill="#7f0000"/><path d="M474.57 332.41L477.30 327.81L471.84 327.81Z" fill="#7f0000"/><path d="M480.33 333.16L483.06 328.56L477.60 328.56Z" fill="#7f0000"/><path d="M486.08 333.92L488.81 329.32L483.35 329.32Z" fill="#7f0000"/><path d="M491.84 334.67L494.57 330.07L489.11 330.07Z" fill="#7f0000"/>
<circle cx="313.36" cy="221.42" r="2.30" fill="#008000"/><circle cx="319.12" cy="222.36" r="2.30" fill="#008000"/><circle cx="324.87" cy="223.11" r="2.30" fill="#008000"/><circle cx="330.63" cy="223.49" r="2.30" fill="#008000"/><circle cx="336.39" cy="224.05" r="2.30" fill="#008000"/><circle cx="342.15" cy="224.24" r="2.30" fill="#008000"/><circle cx="347.90" cy="225.18" r="2.30" fill="#008000"/><circle cx="353.66" cy="226.31" r="2.30" fill="#008000"/><circle cx="359.42" cy="227.63" r="2.30" fill="#008000"/><circle cx="365.18" cy="230.45" r="2.30" fill="#008000"/><circle cx="370.93" cy="240.23" r="2.30" fill="#008000"/><circle cx="376.69" cy="246.81" r="2.30" fill="#008000"/><circle cx="382.45" cy="253.96" r="2.30" fill="#008000"/><circle cx="388.21" cy="263.55" r="2.30" fill="#008000"/><circle cx="393.96" cy="275.22" r="2.30" fill="#008000"/><circle cx="399.72" cy="291.96" r="2.30" fill="#008000"/><circle cx="405.48" cy="309.83" r="2.30" fill="#008000"/><circle cx="411.24" cy="318.86" r="2.30" fill="#008000"/><circle cx="416.99" cy="324.12" r="2.30" fill="#008000"/><circle cx="422.75" cy="326.76" r="2.30" fill="#008000"/><circle cx="428.51" cy="327.70" r="2.30" fill="#008000"/><circle cx="434.27" cy="328.26" r="2.30" fill="#008000"/><circle cx="440.02" cy="329.01" r="2.30" fill="#008000"/><circle cx="445.78" cy="329.58" r="2.30" fill="#008000"/><circle cx="451.54" cy="330.14" r="2.30" fill="#008000"/><circle cx="457.30" cy="330.71" r="2.30" fill="#008000"/><circle cx="463.05" cy="331.27" r="2.30" fill="#008000"/><circle cx="468.81" cy="331.83" r="2.30" fill="#008000"/><circle cx="474.57" cy="332.40" r="2.30" fill="#008000"/><circle cx="480.33" cy="332.96" r="2.30" fill="#008000"/><circle cx="486.08" cy="333.53" r="2.30" fill="#008000"/><circle cx="491.84" cy="334.28" r="2.30" fill="#008000"/>
<path d="M313.36 218.77L315.66 221.42L313.36 224.06L311.06 221.42Z" fill="#0000c0"/><path d="M319.12 218.40L321.42 221.04L319.12 223.69L316.81 221.04Z" fill="#0000c0"/><path d="M324.87 220.28L327.17 222.92L324.87 225.57L322.57 222.92Z" fill="#0000c0"/><path d="M330.63 220.66L332.93 223.30L330.63 225.95L328.33 223.30Z" fill="#0000c0"/><path d="M336.39 221.03L338.69 223.68L336.39 226.32L334.09 223.68Z" fill="#0000c0"/><path d="M342.15 222.54L344.45 225.18L342.15 227.83L339.85 225.18Z" fill="#0000c0"/><path d="M347.90 225.36L350.20 228.00L347.90 230.65L345.60 228.00Z" fill="#0000c0"/><path d="M353.66 227.62L355.96 230.26L353.66 232.91L351.36 230.26Z" fill="#0000c0"/><path d="M359.42 229.50L361.72 232.14L359.42 234.79L357.12 232.14Z" fill="#0000c0"/><path d="M365.18 231.94L367.48 234.59L365.18 237.23L362.88 234.59Z" fill="#0000c0"/><path d="M370.93 240.97L373.23 243.62L370.93 246.26L368.63 243.62Z" fill="#0000c0"/><path d="M376.69 249.81L378.99 252.46L376.69 255.10L374.39 252.46Z" fill="#0000c0"/><path d="M382.45 256.77L384.75 259.42L382.45 262.06L380.15 259.42Z" fill="#0000c0"/><path d="M388.21 267.68L390.51 270.33L388.21 272.97L385.91 270.33Z" fill="#0000c0"/><path d="M393.96 276.52L396.26 279.17L393.96 281.81L391.66 279.17Z" fill="#0000c0"/><path d="M399.72 290.44L402.02 293.09L399.72 295.73L397.42 293.09Z" fill="#0000c0"/><path d="M405.48 303.98L407.78 306.63L405.48 309.27L403.18 306.63Z" fill="#0000c0"/><path d="M411.24 310.00L413.54 312.65L411.24 315.29L408.94 312.65Z" fill="#0000c0"/><path d="M416.99 315.27L419.29 317.92L416.99 320.56L414.69 317.92Z" fill="#0000c0"/><path d="M422.75 319.78L425.05 322.43L422.75 325.07L420.45 322.43Z" fill="#0000c0"/><path d="M428.51 321.85L430.81 324.50L428.51 327.14L426.21 324.50Z" fill="#0000c0"/><path d="M434.27 322.79L436.57 325.44L434.27 328.08L431.97 325.44Z" fill="#0000c0"/><path d="M440.02 323.36L442.32 326.00L440.02 328.65L437.72 326.00Z" fill="#0000c0"/><path d="M445.78 324.11L448.08 326.76L445.78 329.40L443.48 326.76Z" fill="#0000c0"/><path d="M451.54 324.68L453.84 327.32L451.54 329.97L449.24 327.32Z" fill="#0000c0"/><path d="M457.30 325.24L459.60 327.88L457.30 330.53L455.00 327.88Z" fill="#0000c0"/><path d="M463.05 325.99L465.35 328.64L463.05 331.28L460.75 328.64Z" fill="#0000c0"/><path d="M468.81 326.93L471.11 329.58L468.81 332.22L466.51 329.58Z" fill="#0000c0"/><path d="M474.57 327.68L476.87 330.33L474.57 332.97L472.27 330.33Z" fill="#0000c0"/><path d="M480.33 328.44L482.63 331.08L480.33 333.73L478.03 331.08Z" fill="#0000c0"/><path d="M486.08 329.19L488.38 331.83L486.08 334.48L483.78 331.83Z" fill="#0000c0"/><path d="M491.84 329.75L494.14 332.40L491.84 335.04L489.54 332.40Z" fill="#0000c0"/>
<circle cx="313.36" cy="221.42" r="2.30" fill="#ff00ff"/><circle cx="319.12" cy="222.36" r="2.30" fill="#ff00ff"/><circle cx="324.87" cy="223.11" r="2.30" fill="#ff00ff"/><circle cx="330.63" cy="223.68" r="2.30" fill="#ff00ff"/><circle cx="336.39" cy="224.05" r="2.30" fill="#ff00ff"/><circle cx="342.15" cy="224.24" r="2.30" fill="#ff00ff"/><circle cx="347.90" cy="227.44" r="2.30" fill="#ff00ff"/><circle cx="353.66" cy="229.51" r="2.30" fill="#ff00ff"/><circle cx="359.42" cy="231.77" r="2.30" fill="#ff00ff"/><circle cx="365.18" cy="234.21" r="2.30" fill="#ff00ff"/><circle cx="370.93" cy="243.05" r="2.30" fill="#ff00ff"/><circle cx="376.69" cy="252.08" r="2.30" fill="#ff00ff"/><circle cx="382.45" cy="258.85" r="2.30" fill="#ff00ff"/><circle cx="388.21" cy="270.33" r="2.30" fill="#ff00ff"/><circle cx="393.96" cy="280.30" r="2.30" fill="#ff00ff"/><circle cx="399.72" cy="296.66" r="2.30" fill="#ff00ff"/><circle cx="405.48" cy="311.71" r="2.30" fill="#ff00ff"/><circle cx="411.24" cy="316.97" r="2.30" fill="#ff00ff"/><circle cx="416.99" cy="321.49" r="2.30" fill="#ff00ff"/><circle cx="422.75" cy="325.06" r="2.30" fill="#ff00ff"/><circle cx="428.51" cy="326.57" r="2.30" fill="#ff00ff"/><circle cx="434.27" cy="327.13" r="2.30" fill="#ff00ff"/><circle cx="440.02" cy="327.88" r="2.30" fill="#ff00ff"/><circle cx="445.78" cy="328.45" r="2.30" fill="#ff00ff"/><circle cx="451.54" cy="329.58" r="2.30" fill="#ff00ff"/><circle cx="457.30" cy="330.14" r="2.30" fill="#ff00ff"/><circle cx="463.05" cy="330.52" r="2.30" fill="#ff00ff"/><circle cx="468.81" cy="331.08" r="2.30" fill="#ff00ff"/><circle cx="474.57" cy="331.83" r="2.30" fill="#ff00ff"/><circle cx="480.33" cy="332.59" r="2.30" fill="#ff00ff"/><circle cx="486.08" cy="333.15" r="2.30" fill="#ff00ff"/><circle cx="491.84" cy="333.90" r="2.30" fill="#ff00ff"/>
<path d="M313.36 219.12L311.21 220.37L311.21 222.85L313.36 224.09L315.51 222.85L315.51 220.37Z" fill="#000000"/><path d="M319.12 219.88L316.96 221.12L316.96 223.60L319.12 224.84L321.27 223.60L321.27 221.12Z" fill="#000000"/><path d="M324.87 220.63L322.72 221.87L322.72 224.35L324.87 225.60L327.02 224.35L327.02 221.87Z" fill="#000000"/><path d="M330.63 221.19L328.48 222.44L328.48 224.92L330.63 226.16L332.78 224.92L332.78 222.44Z" fill="#000000"/><path d="M336.39 221.95L334.24 223.19L334.24 225.67L336.39 226.91L338.54 225.67L338.54 223.19Z" fill="#000000"/><path d="M342.15 224.58L339.99 225.82L339.99 228.30L342.15 229.55L344.30 228.30L344.30 225.82Z" fill="#000000"/><path d="M347.90 227.40L345.75 228.64L345.75 231.13L347.90 232.37L350.05 231.13L350.05 228.64Z" fill="#000000"/><path d="M353.66 230.60L351.51 231.84L351.51 234.32L353.66 235.57L355.81 234.32L355.81 231.84Z" fill="#000000"/><path d="M359.42 231.73L357.27 232.97L357.27 235.45L359.42 236.69L361.57 235.45L361.57 232.97Z" fill="#000000"/><path d="M365.18 236.24L363.02 237.48L363.02 239.97L365.18 241.21L367.33 239.97L367.33 237.48Z" fill="#000000"/><path d="M370.93 245.27L368.78 246.51L368.78 249.00L370.93 250.24L373.08 249.00L373.08 246.51Z" fill="#000000"/><path d="M376.69 254.86L374.54 256.11L374.54 258.59L376.69 259.83L378.84 258.59L378.84 256.11Z" fill="#000000"/><path d="M382.45 261.45L380.30 262.69L380.30 265.17L382.45 266.41L384.60 265.17L384.60 262.69Z" fill="#000000"/><path d="M388.21 271.04L386.05 272.28L386.05 274.77L388.21 276.01L390.36 274.77L390.36 272.28Z" fill="#000000"/><path d="M393.96 285.34L391.81 286.58L391.81 289.06L393.96 290.30L396.11 289.06L396.11 286.58Z" fill="#000000"/><path d="M399.72 301.14L397.57 302.38L397.57 304.86L399.72 306.10L401.87 304.86L401.87 302.38Z" fill="#000000"/><path d="M405.48 314.49L403.33 315.73L403.33 318.22L405.48 319.46L407.63 318.22L407.63 315.73Z" fill="#000000"/><path d="M411.24 320.51L409.08 321.75L409.08 324.24L411.24 325.48L413.39 324.24L413.39 321.75Z" fill="#000000"/><path d="M416.99 325.21L414.84 326.45L414.84 328.94L416.99 330.18L419.14 328.94L419.14 326.45Z" fill="#000000"/><path d="M422.75 328.79L420.60 330.03L420.60 332.51L422.75 333.75L424.90 332.51L424.90 330.03Z" fill="#000000"/><path d="M428.51 330.48L426.36 331.72L426.36 334.21L428.51 335.45L430.66 334.21L430.66 331.72Z" fill="#000000"/><path d="M434.27 331.42L432.11 332.66L432.11 335.15L434.27 336.39L436.42 335.15L436.42 332.66Z" fill="#000000"/><path d="M440.02 332.36L437.87 333.60L437.87 336.09L440.02 337.33L442.17 336.09L442.17 333.60Z" fill="#000000"/><path d="M445.78 332.74L443.63 333.98L443.63 336.46L445.78 337.70L447.93 336.46L447.93 333.98Z" fill="#000000"/><path d="M451.54 333.11L449.39 334.35L449.39 336.84L451.54 338.08L453.69 336.84L453.69 334.35Z" fill="#000000"/><path d="M457.30 333.68L455.14 334.92L455.14 337.40L457.30 338.64L459.45 337.40L459.45 334.92Z" fill="#000000"/><path d="M463.05 334.24L460.90 335.48L460.90 337.97L463.05 339.21L465.20 337.97L465.20 335.48Z" fill="#000000"/><path d="M468.81 334.81L466.66 336.05L466.66 338.53L468.81 339.77L470.96 338.53L470.96 336.05Z" fill="#000000"/><path d="M474.57 335.56L472.42 336.80L472.42 339.28L474.57 340.53L476.72 339.28L476.72 336.80Z" fill="#000000"/><path d="M480.33 335.93L478.17 337.18L478.17 339.66L480.33 340.90L482.48 339.66L482.48 337.18Z" fill="#000000"/><path d="M486.08 336.69L483.93 337.93L483.93 340.41L486.08 341.65L488.23 340.41L488.23 337.93Z" fill="#000000"/><path d="M491.84 337.25L489.69 338.49L489.69 340.98L491.84 342.22L493.99 340.98L493.99 338.49Z" fill="#000000"/>
<path d="M96.4 311.40H114.1" stroke="#ff9a9a" stroke-width="0.8"/>
<path d="M105.40 308.98L107.91 313.19L102.89 313.19Z" fill="#ff0000"/>
<text x="116.8" y="314.40" font-family="Liberation Serif, serif" font-size="8.3" fill="#222" stroke="#222" stroke-width="0.2">Graphene (0 wt.%), CNTs (0 wt.%)</text>
<path d="M96.4 321.50H114.1" stroke="#b06060" stroke-width="0.8"/>
<path d="M105.40 323.92L107.91 319.71L102.89 319.71Z" fill="#7f0000"/>
<text x="116.8" y="324.50" font-family="Liberation Serif, serif" font-size="8.3" fill="#222" stroke="#222" stroke-width="0.2">Graphene (1 wt.%), CNTs (0 wt.%)</text>
<path d="M96.4 331.50H114.1" stroke="#90c890" stroke-width="0.8"/>
<circle cx="105.40" cy="331.50" r="2.10" fill="#008000"/>
<text x="116.8" y="334.50" font-family="Liberation Serif, serif" font-size="8.3" fill="#222" stroke="#222" stroke-width="0.2">Graphene (0.75 wt.%), CNTs (0.25 wt.%)</text>
<path d="M96.4 341.50H114.1" stroke="#9090e0" stroke-width="0.8"/>
<path d="M105.40 339.08L107.50 341.50L105.40 343.92L103.30 341.50Z" fill="#0000c0"/>
<text x="116.8" y="344.50" font-family="Liberation Serif, serif" font-size="8.3" fill="#222" stroke="#222" stroke-width="0.2">Graphene (0.5 wt.%), CNTs (0.5 wt.%)</text>
<path d="M96.4 351.50H114.1" stroke="#ff90ff" stroke-width="0.8"/>
<circle cx="105.40" cy="351.50" r="2.10" fill="#ff00ff"/>
<text x="116.8" y="354.50" font-family="Liberation Serif, serif" font-size="8.3" fill="#222" stroke="#222" stroke-width="0.2">Graphene (0.25 wt.%), CNTs (0.75 wt.%)</text>
<path d="M96.4 361.60H114.1" stroke="#909090" stroke-width="0.8"/>
<path d="M105.40 359.33L103.44 360.47L103.44 362.73L105.40 363.87L107.36 362.73L107.36 360.47Z" fill="#000000"/>
<text x="116.8" y="364.60" font-family="Liberation Serif, serif" font-size="8.3" fill="#222" stroke="#222" stroke-width="0.2">Graphene (0 wt.%), CNTs (1 wt.%)</text>
<path d="M387.8 207.10H405.5" stroke="#ff9a9a" stroke-width="0.8"/>
<path d="M396.70 204.69L399.21 208.88L394.19 208.88Z" fill="#ff0000"/>
<text x="407.9" y="210.10" font-family="Liberation Serif, serif" font-size="8.1" fill="#222" stroke="#222" stroke-width="0.2">Graphene (0 wt.%), CNTs (0 wt.%)</text>
<path d="M387.8 217.00H405.5" stroke="#b06060" stroke-width="0.8"/>
<path d="M396.70 219.41L399.21 215.22L394.19 215.22Z" fill="#7f0000"/>
<text x="407.9" y="220.00" font-family="Liberation Serif, serif" font-size="8.1" fill="#222" stroke="#222" stroke-width="0.2">Graphene (1 wt.%), CNTs (0 wt.%)</text>
<path d="M387.8 226.80H405.5" stroke="#90c890" stroke-width="0.8"/>
<circle cx="396.70" cy="226.80" r="2.10" fill="#008000"/>
<text x="407.9" y="229.80" font-family="Liberation Serif, serif" font-size="8.1" fill="#222" stroke="#222" stroke-width="0.2">Graphene (0.75 wt.%), CNTs (0.25 wt.%)</text>
<path d="M387.8 236.60H405.5" stroke="#9090e0" stroke-width="0.8"/>
<path d="M396.70 234.19L398.80 236.60L396.70 239.01L394.60 236.60Z" fill="#0000c0"/>
<text x="407.9" y="239.60" font-family="Liberation Serif, serif" font-size="8.1" fill="#222" stroke="#222" stroke-width="0.2">Graphene (0.5 wt.%), CNTs (0.5 wt.%)</text>
<path d="M387.8 246.30H405.5" stroke="#ff90ff" stroke-width="0.8"/>
<circle cx="396.70" cy="246.30" r="2.10" fill="#ff00ff"/>
<text x="407.9" y="249.30" font-family="Liberation Serif, serif" font-size="8.1" fill="#222" stroke="#222" stroke-width="0.2">Graphene (0.25 wt.%), CNTs (0.75 wt.%)</text>
<path d="M387.8 256.00H405.5" stroke="#909090" stroke-width="0.8"/>
<path d="M396.70 253.73L394.74 254.87L394.74 257.13L396.70 258.27L398.66 257.13L398.66 254.87Z" fill="#000000"/>
<text x="407.9" y="259.00" font-family="Liberation Serif, serif" font-size="8.1" fill="#222" stroke="#222" stroke-width="0.2">Graphene (0 wt.%), CNTs (1 wt.%)</text>
<text x="274.2" y="192.8" font-family="Liberation Serif, serif" font-size="14.2" text-anchor="middle" fill="#1a1a1a" stroke="#1a1a1a" stroke-width="0.15">(<tspan font-weight="bold" stroke-width="0.3">a</tspan>)</text>
<text x="274.0" y="417.4" font-family="Liberation Serif, serif" font-size="14.2" text-anchor="middle" fill="#1a1a1a" stroke="#1a1a1a" stroke-width="0.15">(<tspan font-weight="bold" stroke-width="0.3">b</tspan>)</text>
</svg>
</body></html>
